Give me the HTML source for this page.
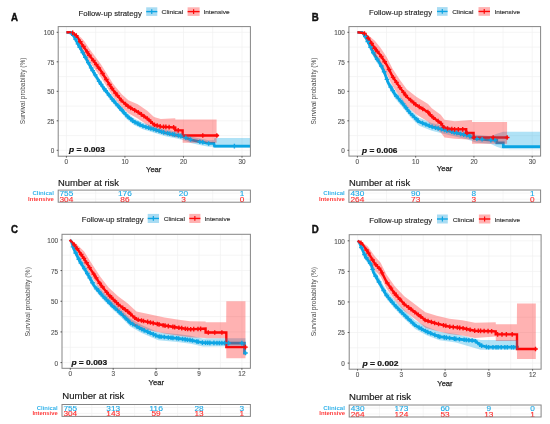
<!DOCTYPE html>
<html><head><meta charset="utf-8"><style>
html,body{margin:0;padding:0;background:#fff;}
svg{display:block;font-family:"Liberation Sans", sans-serif;filter:blur(0.35px);}
</style></head><body>
<svg width="550" height="424" viewBox="0 0 550 424">
<rect width="550" height="424" fill="#fff"/>
<text x="11.10" y="20.90" font-size="10.0" fill="#111" font-weight="bold" font-style="normal" text-anchor="start" textLength="7.00" lengthAdjust="spacingAndGlyphs" stroke="#111" stroke-width="0.4">A</text>
<text x="78.40" y="15.60" font-size="8" fill="#262626" font-weight="normal" font-style="normal" text-anchor="start" textLength="63.40" lengthAdjust="spacingAndGlyphs" stroke="#262626" stroke-width="0.15">Follow-up strategy</text>
<rect x="146.20" y="7.30" width="11.10" height="8.60" fill="#a9dcf3"/>
<line x1="146.20" y1="11.60" x2="157.30" y2="11.60" stroke="#0ea5e4" stroke-width="1.4"/>
<line x1="151.75" y1="9.20" x2="151.75" y2="14.00" stroke="#0ea5e4" stroke-width="1.2"/>
<text x="161.60" y="14.40" font-size="6" fill="#333" font-weight="normal" font-style="normal" text-anchor="start" textLength="21.60" lengthAdjust="spacingAndGlyphs" stroke="#333" stroke-width="0.15">Clinical</text>
<rect x="187.60" y="7.30" width="12.00" height="8.60" fill="#ffb2b2"/>
<line x1="187.60" y1="11.60" x2="199.60" y2="11.60" stroke="#fe0a0a" stroke-width="1.4"/>
<line x1="193.60" y1="9.20" x2="193.60" y2="14.00" stroke="#fe0a0a" stroke-width="1.2"/>
<text x="203.40" y="14.40" font-size="6" fill="#333" font-weight="normal" font-style="normal" text-anchor="start" textLength="26.20" lengthAdjust="spacingAndGlyphs" stroke="#333" stroke-width="0.15">Intensive</text>
<rect x="58.2" y="26.6" width="192.2" height="129.6" fill="#fff"/>
<line x1="66.40" y1="26.6" x2="66.40" y2="156.2" stroke="#f0f0f0" stroke-width="0.7"/>
<line x1="95.67" y1="26.6" x2="95.67" y2="156.2" stroke="#f0f0f0" stroke-width="0.7"/>
<line x1="124.93" y1="26.6" x2="124.93" y2="156.2" stroke="#f0f0f0" stroke-width="0.7"/>
<line x1="154.20" y1="26.6" x2="154.20" y2="156.2" stroke="#f0f0f0" stroke-width="0.7"/>
<line x1="183.47" y1="26.6" x2="183.47" y2="156.2" stroke="#f0f0f0" stroke-width="0.7"/>
<line x1="212.73" y1="26.6" x2="212.73" y2="156.2" stroke="#f0f0f0" stroke-width="0.7"/>
<line x1="242.00" y1="26.6" x2="242.00" y2="156.2" stroke="#f0f0f0" stroke-width="0.7"/>
<line x1="58.2" y1="150.30" x2="250.4" y2="150.30" stroke="#f0f0f0" stroke-width="0.7"/>
<line x1="58.2" y1="135.55" x2="250.4" y2="135.55" stroke="#f0f0f0" stroke-width="0.7"/>
<line x1="58.2" y1="120.80" x2="250.4" y2="120.80" stroke="#f0f0f0" stroke-width="0.7"/>
<line x1="58.2" y1="106.05" x2="250.4" y2="106.05" stroke="#f0f0f0" stroke-width="0.7"/>
<line x1="58.2" y1="91.30" x2="250.4" y2="91.30" stroke="#f0f0f0" stroke-width="0.7"/>
<line x1="58.2" y1="76.55" x2="250.4" y2="76.55" stroke="#f0f0f0" stroke-width="0.7"/>
<line x1="58.2" y1="61.80" x2="250.4" y2="61.80" stroke="#f0f0f0" stroke-width="0.7"/>
<line x1="58.2" y1="47.05" x2="250.4" y2="47.05" stroke="#f0f0f0" stroke-width="0.7"/>
<line x1="58.2" y1="32.30" x2="250.4" y2="32.30" stroke="#f0f0f0" stroke-width="0.7"/>
<path d="M66.40 32.30 L69.91 32.30 L72.25 34.07 L74.59 37.49 L77.58 43.27 L81.21 49.76 L84.08 54.96 L87.59 61.33 L93.27 71.71 L99.00 81.15 L102.69 86.82 L107.55 93.19 L114.28 101.68 L120.84 109.00 L126.86 115.84 L133.65 121.51 L142.67 125.99 L154.20 129.53 L165.32 132.84 L176.62 135.08 L182.65 136.61 L191.72 140.03 L199.62 141.69 L208.69 143.46 L213.90 143.46 L214.49 146.17 L250.19 146.17" fill="none" stroke="#0ea5e4" stroke-width="2.7" stroke-linejoin="miter"/>
<path d="M66.40 32.30 L72.25 32.54 L76.82 35.96 L81.21 43.27 L84.78 48.35 L89.17 54.96 L93.27 60.38 L100.88 70.77 L107.49 81.27 L113.05 90.12 L121.77 100.86 L128.39 106.64 L137.75 111.95 L147.23 118.44 L154.02 124.58 L160.81 126.58 L175.27 127.53 L175.27 130.36 L182.65 130.36 L182.65 135.55 L218.29 135.55" fill="none" stroke="#fe0a0a" stroke-width="2.4" stroke-linejoin="miter"/>
<path d="M66.40 32.30 L69.91 32.30 L72.25 33.18 L74.59 34.90 L77.58 39.97 L81.21 46.46 L84.08 51.65 L87.59 58.02 L93.27 68.41 L99.00 77.85 L102.69 83.51 L107.55 89.88 L114.28 98.38 L120.84 105.70 L126.86 112.54 L133.65 118.20 L142.67 122.69 L154.20 126.23 L165.32 129.53 L176.62 131.77 L182.65 133.31 L191.72 136.73 L199.62 138.38 L208.69 140.15 L213.90 140.15 L214.49 138.03 L250.19 138.03 L250.19 147.70 L214.49 147.70 L213.90 146.76 L208.69 146.76 L199.62 144.99 L191.72 143.34 L182.65 139.92 L176.62 138.38 L165.32 136.14 L154.20 132.84 L142.67 129.30 L133.65 124.81 L126.86 119.15 L120.84 112.30 L114.28 104.99 L107.55 96.49 L102.69 90.12 L99.00 84.46 L93.27 75.02 L87.59 64.63 L84.08 58.26 L81.21 53.07 L77.58 46.58 L74.59 40.09 L72.25 34.95 L69.91 32.30 L66.40 32.30Z" fill="#00a0e1" fill-opacity="0.31"/>
<path d="M66.40 32.30 L72.25 32.42 L76.82 34.13 L81.21 37.79 L84.78 41.86 L89.17 48.47 L93.27 53.89 L100.88 64.28 L107.49 74.78 L113.05 83.63 L121.77 94.37 L128.39 100.15 L137.75 104.28 L147.23 110.77 L154.02 116.91 L160.81 118.91 L175.27 118.20 L175.33 119.62 L182.59 119.62 L182.65 119.62 L216.60 119.62 L216.60 142.75 L182.65 142.75 L182.59 137.20 L175.33 137.20 L175.27 137.20 L160.81 133.07 L154.02 131.07 L147.23 124.93 L137.75 118.44 L128.39 113.13 L121.77 107.35 L113.05 96.61 L107.49 87.76 L100.88 77.26 L93.27 66.87 L89.17 61.45 L84.78 54.84 L81.21 48.76 L76.82 37.79 L72.25 32.65 L66.40 32.30Z" fill="#ff0000" fill-opacity="0.3"/>
<path d="M69.38 33.63H73.98M71.68 31.33V35.93" stroke="#0ea5e4" stroke-width="1.4"/>
<path d="M73.14 39.12H77.74M75.44 36.82V41.42" stroke="#0ea5e4" stroke-width="1.4"/>
<path d="M75.64 43.91H80.24M77.94 41.61V46.21" stroke="#0ea5e4" stroke-width="1.4"/>
<path d="M77.47 47.19H82.07M79.77 44.89V49.49" stroke="#0ea5e4" stroke-width="1.4"/>
<path d="M80.48 52.61H85.08M82.78 50.31V54.91" stroke="#0ea5e4" stroke-width="1.4"/>
<path d="M83.04 57.25H87.64M85.34 54.95V59.55" stroke="#0ea5e4" stroke-width="1.4"/>
<path d="M86.00 62.62H90.60M88.30 60.32V64.92" stroke="#0ea5e4" stroke-width="1.4"/>
<path d="M88.85 67.84H93.45M91.15 65.54V70.14" stroke="#0ea5e4" stroke-width="1.4"/>
<path d="M90.38 70.65H94.98M92.68 68.35V72.95" stroke="#0ea5e4" stroke-width="1.4"/>
<path d="M92.91 74.92H97.51M95.21 72.62V77.22" stroke="#0ea5e4" stroke-width="1.4"/>
<path d="M96.82 81.34H101.42M99.12 79.04V83.64" stroke="#0ea5e4" stroke-width="1.4"/>
<path d="M98.82 84.41H103.42M101.12 82.11V86.71" stroke="#0ea5e4" stroke-width="1.4"/>
<path d="M101.98 88.90H106.58M104.28 86.60V91.20" stroke="#0ea5e4" stroke-width="1.4"/>
<path d="M103.41 90.77H108.01M105.71 88.47V93.07" stroke="#0ea5e4" stroke-width="1.4"/>
<path d="M106.74 95.07H111.34M109.04 92.77V97.37" stroke="#0ea5e4" stroke-width="1.4"/>
<path d="M109.81 98.95H114.41M112.11 96.65V101.25" stroke="#0ea5e4" stroke-width="1.4"/>
<path d="M111.67 101.29H116.27M113.97 98.99V103.59" stroke="#0ea5e4" stroke-width="1.4"/>
<path d="M115.44 105.54H120.04M117.74 103.24V107.84" stroke="#0ea5e4" stroke-width="1.4"/>
<path d="M118.00 108.40H122.60M120.30 106.10V110.70" stroke="#0ea5e4" stroke-width="1.4"/>
<path d="M119.26 109.82H123.86M121.56 107.52V112.12" stroke="#0ea5e4" stroke-width="1.4"/>
<path d="M121.88 112.80H126.48M124.18 110.50V115.10" stroke="#0ea5e4" stroke-width="1.4"/>
<path d="M125.33 116.48H129.93M127.63 114.18V118.78" stroke="#0ea5e4" stroke-width="1.4"/>
<path d="M128.60 119.21H133.20M130.90 116.91V121.51" stroke="#0ea5e4" stroke-width="1.4"/>
<path d="M130.35 120.67H134.95M132.65 118.37V122.97" stroke="#0ea5e4" stroke-width="1.4"/>
<path d="M132.72 122.19H137.32M135.02 119.89V124.49" stroke="#0ea5e4" stroke-width="1.4"/>
<path d="M135.68 123.66H140.28M137.98 121.36V125.96" stroke="#0ea5e4" stroke-width="1.4"/>
<path d="M137.69 124.66H142.29M139.99 122.36V126.96" stroke="#0ea5e4" stroke-width="1.4"/>
<path d="M140.63 126.07H145.23M142.93 123.77V128.37" stroke="#0ea5e4" stroke-width="1.4"/>
<path d="M143.61 126.99H148.21M145.91 124.69V129.29" stroke="#0ea5e4" stroke-width="1.4"/>
<path d="M146.33 127.82H150.93M148.63 125.52V130.12" stroke="#0ea5e4" stroke-width="1.4"/>
<path d="M148.55 128.50H153.15M150.85 126.20V130.80" stroke="#0ea5e4" stroke-width="1.4"/>
<path d="M151.18 129.31H155.78M153.48 127.01V131.61" stroke="#0ea5e4" stroke-width="1.4"/>
<path d="M153.80 130.10H158.40M156.10 127.80V132.40" stroke="#0ea5e4" stroke-width="1.4"/>
<path d="M156.81 130.99H161.41M159.11 128.69V133.29" stroke="#0ea5e4" stroke-width="1.4"/>
<path d="M159.18 131.69H163.78M161.48 129.39V133.99" stroke="#0ea5e4" stroke-width="1.4"/>
<path d="M161.39 132.35H165.99M163.69 130.05V134.65" stroke="#0ea5e4" stroke-width="1.4"/>
<path d="M165.31 133.29H169.91M167.61 130.99V135.59" stroke="#0ea5e4" stroke-width="1.4"/>
<path d="M167.50 133.72H172.10M169.80 131.42V136.02" stroke="#0ea5e4" stroke-width="1.4"/>
<path d="M170.27 134.27H174.87M172.57 131.97V136.57" stroke="#0ea5e4" stroke-width="1.4"/>
<path d="M172.18 134.65H176.78M174.48 132.35V136.95" stroke="#0ea5e4" stroke-width="1.4"/>
<path d="M176.09 135.53H180.69M178.39 133.23V137.83" stroke="#0ea5e4" stroke-width="1.4"/>
<path d="M178.52 136.15H183.12M180.82 133.85V138.45" stroke="#0ea5e4" stroke-width="1.4"/>
<path d="M183.51 137.80H188.11M185.81 135.50V140.10" stroke="#0ea5e4" stroke-width="1.4"/>
<path d="M188.19 139.57H192.79M190.49 137.27V141.87" stroke="#0ea5e4" stroke-width="1.4"/>
<path d="M197.56 141.73H202.16M199.86 139.43V144.03" stroke="#0ea5e4" stroke-width="1.4"/>
<path d="M200.48 142.30H205.08M202.78 140.00V144.60" stroke="#0ea5e4" stroke-width="1.4"/>
<path d="M206.34 143.44H210.94M208.64 141.14V145.74" stroke="#0ea5e4" stroke-width="1.4"/>
<path d="M232.09 146.17H236.69M234.39 143.87V148.47" stroke="#0ea5e4" stroke-width="1.4"/>
<path d="M70.39 32.86H74.99M72.69 30.56V35.16" stroke="#fe0a0a" stroke-width="1.4"/>
<path d="M74.02 35.58H78.62M76.32 33.28V37.88" stroke="#fe0a0a" stroke-width="1.4"/>
<path d="M77.99 41.74H82.59M80.29 39.44V44.04" stroke="#fe0a0a" stroke-width="1.4"/>
<path d="M81.19 46.52H85.79M83.49 44.22V48.82" stroke="#fe0a0a" stroke-width="1.4"/>
<path d="M84.84 51.91H89.44M87.14 49.61V54.21" stroke="#fe0a0a" stroke-width="1.4"/>
<path d="M87.07 55.22H91.67M89.37 52.92V57.52" stroke="#fe0a0a" stroke-width="1.4"/>
<path d="M91.08 60.54H95.68M93.38 58.24V62.84" stroke="#fe0a0a" stroke-width="1.4"/>
<path d="M93.99 64.51H98.59M96.29 62.21V66.81" stroke="#fe0a0a" stroke-width="1.4"/>
<path d="M96.50 67.93H101.10M98.80 65.63V70.23" stroke="#fe0a0a" stroke-width="1.4"/>
<path d="M100.27 73.45H104.87M102.57 71.15V75.75" stroke="#fe0a0a" stroke-width="1.4"/>
<path d="M104.06 79.47H108.66M106.36 77.17V81.77" stroke="#fe0a0a" stroke-width="1.4"/>
<path d="M107.21 84.48H111.81M109.51 82.18V86.78" stroke="#fe0a0a" stroke-width="1.4"/>
<path d="M109.77 88.55H114.37M112.07 86.25V90.85" stroke="#fe0a0a" stroke-width="1.4"/>
<path d="M113.15 93.07H117.75M115.45 90.77V95.37" stroke="#fe0a0a" stroke-width="1.4"/>
<path d="M115.30 95.72H119.90M117.60 93.42V98.02" stroke="#fe0a0a" stroke-width="1.4"/>
<path d="M118.92 100.17H123.52M121.22 97.87V102.47" stroke="#fe0a0a" stroke-width="1.4"/>
<path d="M123.21 104.12H127.81M125.51 101.82V106.42" stroke="#fe0a0a" stroke-width="1.4"/>
<path d="M125.69 106.29H130.29M127.99 103.99V108.59" stroke="#fe0a0a" stroke-width="1.4"/>
<path d="M128.44 107.97H133.04M130.74 105.67V110.27" stroke="#fe0a0a" stroke-width="1.4"/>
<path d="M132.39 110.21H136.99M134.69 107.91V112.51" stroke="#fe0a0a" stroke-width="1.4"/>
<path d="M135.90 112.26H140.50M138.20 109.96V114.56" stroke="#fe0a0a" stroke-width="1.4"/>
<path d="M139.07 114.42H143.67M141.37 112.12V116.72" stroke="#fe0a0a" stroke-width="1.4"/>
<path d="M141.71 116.23H146.31M144.01 113.93V118.53" stroke="#fe0a0a" stroke-width="1.4"/>
<path d="M145.05 118.55H149.65M147.35 116.25V120.85" stroke="#fe0a0a" stroke-width="1.4"/>
<path d="M148.40 121.58H153.00M150.70 119.28V123.88" stroke="#fe0a0a" stroke-width="1.4"/>
<path d="M152.15 124.70H156.75M154.45 122.40V127.00" stroke="#fe0a0a" stroke-width="1.4"/>
<path d="M154.87 125.50H159.47M157.17 123.20V127.80" stroke="#fe0a0a" stroke-width="1.4"/>
<path d="M157.84 126.38H162.44M160.14 124.08V128.68" stroke="#fe0a0a" stroke-width="1.4"/>
<path d="M161.25 126.76H165.85M163.55 124.46V129.06" stroke="#fe0a0a" stroke-width="1.4"/>
<path d="M163.58 126.91H168.18M165.88 124.61V129.21" stroke="#fe0a0a" stroke-width="1.4"/>
<path d="M166.82 127.12H171.42M169.12 124.82V129.42" stroke="#fe0a0a" stroke-width="1.4"/>
<path d="M171.32 127.42H175.92M173.62 125.12V129.72" stroke="#fe0a0a" stroke-width="1.4"/>
<path d="M175.90 130.36H180.50M178.20 128.06V132.66" stroke="#fe0a0a" stroke-width="1.4"/>
<path d="M200.48 135.55H205.08M202.78 133.25V137.85" stroke="#fe0a0a" stroke-width="1.4"/>
<path d="M214.53 135.55H219.13M216.83 133.25V137.85" stroke="#fe0a0a" stroke-width="1.4"/>
<text x="69.00" y="152.20" font-size="7.8" fill="#111" font-weight="bold" stroke="#111" stroke-width="0.2" textLength="36.00" lengthAdjust="spacingAndGlyphs"><tspan font-style="italic">p</tspan> = 0.003</text>
<rect x="58.2" y="26.6" width="192.2" height="129.6" fill="none" stroke="#858585" stroke-width="1"/>
<line x1="66.40" y1="156.2" x2="66.40" y2="157.7" stroke="#333" stroke-width="0.8"/>
<text x="66.40" y="163.80" font-size="6.4" fill="#555555" font-weight="normal" font-style="normal" text-anchor="middle" stroke="#555555" stroke-width="0.12">0</text>
<line x1="124.93" y1="156.2" x2="124.93" y2="157.7" stroke="#333" stroke-width="0.8"/>
<text x="124.93" y="163.80" font-size="6.4" fill="#555555" font-weight="normal" font-style="normal" text-anchor="middle" stroke="#555555" stroke-width="0.12">10</text>
<line x1="183.47" y1="156.2" x2="183.47" y2="157.7" stroke="#333" stroke-width="0.8"/>
<text x="183.47" y="163.80" font-size="6.4" fill="#555555" font-weight="normal" font-style="normal" text-anchor="middle" stroke="#555555" stroke-width="0.12">20</text>
<line x1="242.00" y1="156.2" x2="242.00" y2="157.7" stroke="#333" stroke-width="0.8"/>
<text x="242.00" y="163.80" font-size="6.4" fill="#555555" font-weight="normal" font-style="normal" text-anchor="middle" stroke="#555555" stroke-width="0.12">30</text>
<line x1="56.7" y1="150.30" x2="58.2" y2="150.30" stroke="#333" stroke-width="0.8"/>
<text x="54.30" y="153.25" font-size="6.4" fill="#555555" font-weight="normal" font-style="normal" text-anchor="end" stroke="#555555" stroke-width="0.12">0</text>
<line x1="56.7" y1="120.80" x2="58.2" y2="120.80" stroke="#333" stroke-width="0.8"/>
<text x="54.30" y="123.75" font-size="6.4" fill="#555555" font-weight="normal" font-style="normal" text-anchor="end" stroke="#555555" stroke-width="0.12">25</text>
<line x1="56.7" y1="91.30" x2="58.2" y2="91.30" stroke="#333" stroke-width="0.8"/>
<text x="54.30" y="94.25" font-size="6.4" fill="#555555" font-weight="normal" font-style="normal" text-anchor="end" stroke="#555555" stroke-width="0.12">50</text>
<line x1="56.7" y1="61.80" x2="58.2" y2="61.80" stroke="#333" stroke-width="0.8"/>
<text x="54.30" y="64.75" font-size="6.4" fill="#555555" font-weight="normal" font-style="normal" text-anchor="end" stroke="#555555" stroke-width="0.12">75</text>
<line x1="56.7" y1="32.30" x2="58.2" y2="32.30" stroke="#333" stroke-width="0.8"/>
<text x="54.30" y="35.25" font-size="6.4" fill="#555555" font-weight="normal" font-style="normal" text-anchor="end" stroke="#555555" stroke-width="0.12">100</text>
<text transform="translate(24.50,90.90) rotate(-90)" x="0" y="0" font-size="7.8" fill="#4a4a4a" text-anchor="middle" textLength="66.50" lengthAdjust="spacingAndGlyphs">Survival probability (%)</text>
<text x="146.00" y="171.50" font-size="7.4" fill="#262626" font-weight="normal" font-style="normal" text-anchor="start" textLength="15.40" lengthAdjust="spacingAndGlyphs" stroke="#262626" stroke-width="0.25">Year</text>
<text x="58.00" y="185.90" font-size="8.2" fill="#1a1a1a" font-weight="normal" font-style="normal" text-anchor="start" textLength="61.00" lengthAdjust="spacingAndGlyphs" stroke="#1a1a1a" stroke-width="0.15">Number at risk</text>
<rect x="58.2" y="190.1" width="192.2" height="12.099999999999994" fill="#fff"/>
<line x1="66.40" y1="190.1" x2="66.40" y2="202.2" stroke="#f0f0f0" stroke-width="0.7"/>
<line x1="95.67" y1="190.1" x2="95.67" y2="202.2" stroke="#f0f0f0" stroke-width="0.7"/>
<line x1="124.93" y1="190.1" x2="124.93" y2="202.2" stroke="#f0f0f0" stroke-width="0.7"/>
<line x1="154.20" y1="190.1" x2="154.20" y2="202.2" stroke="#f0f0f0" stroke-width="0.7"/>
<line x1="183.47" y1="190.1" x2="183.47" y2="202.2" stroke="#f0f0f0" stroke-width="0.7"/>
<line x1="212.73" y1="190.1" x2="212.73" y2="202.2" stroke="#f0f0f0" stroke-width="0.7"/>
<line x1="242.00" y1="190.1" x2="242.00" y2="202.2" stroke="#f0f0f0" stroke-width="0.7"/>
<line x1="58.2" y1="193.12" x2="250.4" y2="193.12" stroke="#f0f0f0" stroke-width="0.7"/>
<line x1="58.2" y1="199.17" x2="250.4" y2="199.17" stroke="#f0f0f0" stroke-width="0.7"/>
<text x="66.40" y="196.10" font-size="6.9" fill="#1ea9e6" font-weight="normal" font-style="normal" text-anchor="middle" textLength="13.80" lengthAdjust="spacingAndGlyphs" stroke="#1ea9e6" stroke-width="0.1">755</text>
<text x="66.40" y="201.80" font-size="6.9" fill="#ff2a2a" font-weight="normal" font-style="normal" text-anchor="middle" textLength="13.80" lengthAdjust="spacingAndGlyphs" stroke="#ff2a2a" stroke-width="0.1">304</text>
<text x="124.93" y="196.10" font-size="6.9" fill="#1ea9e6" font-weight="normal" font-style="normal" text-anchor="middle" textLength="13.80" lengthAdjust="spacingAndGlyphs" stroke="#1ea9e6" stroke-width="0.1">176</text>
<text x="124.93" y="201.80" font-size="6.9" fill="#ff2a2a" font-weight="normal" font-style="normal" text-anchor="middle" textLength="9.20" lengthAdjust="spacingAndGlyphs" stroke="#ff2a2a" stroke-width="0.1">86</text>
<text x="183.47" y="196.10" font-size="6.9" fill="#1ea9e6" font-weight="normal" font-style="normal" text-anchor="middle" textLength="9.20" lengthAdjust="spacingAndGlyphs" stroke="#1ea9e6" stroke-width="0.1">20</text>
<text x="183.47" y="201.80" font-size="6.9" fill="#ff2a2a" font-weight="normal" font-style="normal" text-anchor="middle" textLength="4.60" lengthAdjust="spacingAndGlyphs" stroke="#ff2a2a" stroke-width="0.1">3</text>
<text x="242.00" y="196.10" font-size="6.9" fill="#1ea9e6" font-weight="normal" font-style="normal" text-anchor="middle" textLength="4.60" lengthAdjust="spacingAndGlyphs" stroke="#1ea9e6" stroke-width="0.1">1</text>
<text x="242.00" y="201.80" font-size="6.9" fill="#ff2a2a" font-weight="normal" font-style="normal" text-anchor="middle" textLength="4.60" lengthAdjust="spacingAndGlyphs" stroke="#ff2a2a" stroke-width="0.1">0</text>
<rect x="58.2" y="190.1" width="192.2" height="12.099999999999994" fill="none" stroke="#858585" stroke-width="1"/>
<text x="53.90" y="195.10" font-size="5.6" fill="#35b3ea" font-weight="bold" font-style="normal" text-anchor="end" textLength="21.50" lengthAdjust="spacingAndGlyphs">Clinical</text>
<text x="53.90" y="200.60" font-size="5.6" fill="#ff3a3a" font-weight="bold" font-style="normal" text-anchor="end" textLength="25.80" lengthAdjust="spacingAndGlyphs">Intensive</text>
<text x="311.80" y="20.90" font-size="10.0" fill="#111" font-weight="bold" font-style="normal" text-anchor="start" textLength="7.00" lengthAdjust="spacingAndGlyphs" stroke="#111" stroke-width="0.4">B</text>
<text x="369.00" y="15.40" font-size="8" fill="#262626" font-weight="normal" font-style="normal" text-anchor="start" textLength="63.00" lengthAdjust="spacingAndGlyphs" stroke="#262626" stroke-width="0.15">Follow-up strategy</text>
<rect x="437.00" y="7.10" width="10.60" height="8.70" fill="#a9dcf3"/>
<line x1="437.00" y1="11.45" x2="447.60" y2="11.45" stroke="#0ea5e4" stroke-width="1.4"/>
<line x1="442.30" y1="9.05" x2="442.30" y2="13.85" stroke="#0ea5e4" stroke-width="1.2"/>
<text x="452.20" y="14.30" font-size="6" fill="#333" font-weight="normal" font-style="normal" text-anchor="start" textLength="21.30" lengthAdjust="spacingAndGlyphs" stroke="#333" stroke-width="0.15">Clinical</text>
<rect x="478.50" y="7.10" width="11.50" height="8.70" fill="#ffb2b2"/>
<line x1="478.50" y1="11.45" x2="490.00" y2="11.45" stroke="#fe0a0a" stroke-width="1.4"/>
<line x1="484.25" y1="9.05" x2="484.25" y2="13.85" stroke="#fe0a0a" stroke-width="1.2"/>
<text x="494.40" y="14.30" font-size="6" fill="#333" font-weight="normal" font-style="normal" text-anchor="start" textLength="25.60" lengthAdjust="spacingAndGlyphs" stroke="#333" stroke-width="0.15">Intensive</text>
<rect x="348.9" y="26.6" width="191.70000000000005" height="129.5" fill="#fff"/>
<line x1="357.40" y1="26.6" x2="357.40" y2="156.1" stroke="#f0f0f0" stroke-width="0.7"/>
<line x1="386.53" y1="26.6" x2="386.53" y2="156.1" stroke="#f0f0f0" stroke-width="0.7"/>
<line x1="415.67" y1="26.6" x2="415.67" y2="156.1" stroke="#f0f0f0" stroke-width="0.7"/>
<line x1="444.80" y1="26.6" x2="444.80" y2="156.1" stroke="#f0f0f0" stroke-width="0.7"/>
<line x1="473.93" y1="26.6" x2="473.93" y2="156.1" stroke="#f0f0f0" stroke-width="0.7"/>
<line x1="503.07" y1="26.6" x2="503.07" y2="156.1" stroke="#f0f0f0" stroke-width="0.7"/>
<line x1="532.20" y1="26.6" x2="532.20" y2="156.1" stroke="#f0f0f0" stroke-width="0.7"/>
<line x1="348.9" y1="150.30" x2="540.6" y2="150.30" stroke="#f0f0f0" stroke-width="0.7"/>
<line x1="348.9" y1="135.55" x2="540.6" y2="135.55" stroke="#f0f0f0" stroke-width="0.7"/>
<line x1="348.9" y1="120.80" x2="540.6" y2="120.80" stroke="#f0f0f0" stroke-width="0.7"/>
<line x1="348.9" y1="106.05" x2="540.6" y2="106.05" stroke="#f0f0f0" stroke-width="0.7"/>
<line x1="348.9" y1="91.30" x2="540.6" y2="91.30" stroke="#f0f0f0" stroke-width="0.7"/>
<line x1="348.9" y1="76.55" x2="540.6" y2="76.55" stroke="#f0f0f0" stroke-width="0.7"/>
<line x1="348.9" y1="61.80" x2="540.6" y2="61.80" stroke="#f0f0f0" stroke-width="0.7"/>
<line x1="348.9" y1="47.05" x2="540.6" y2="47.05" stroke="#f0f0f0" stroke-width="0.7"/>
<line x1="348.9" y1="32.30" x2="540.6" y2="32.30" stroke="#f0f0f0" stroke-width="0.7"/>
<path d="M357.40 32.30 L362.06 32.30 L365.32 36.55 L369.99 45.99 L374.82 55.55 L380.71 64.75 L384.20 71.83 L387.99 82.45 L394.98 94.49 L402.09 102.75 L410.19 113.13 L419.10 121.74 L431.81 126.82 L444.51 130.00 L457.27 133.19 L467.70 135.55 L475.51 138.62 L490.89 140.15 L496.77 140.15 L496.77 142.87 L503.30 142.87 L503.30 146.64 L540.36 146.64" fill="none" stroke="#0ea5e4" stroke-width="2.7" stroke-linejoin="miter"/>
<path d="M357.40 32.30 L364.22 33.13 L368.88 39.03 L374.82 48.35 L380.71 55.55 L386.82 64.99 L392.71 76.79 L399.82 87.41 L406.81 96.85 L416.31 105.11 L428.08 112.19 L431.81 116.55 L440.72 123.04 L444.51 128.12 L454.71 129.41 L466.18 129.30 L466.18 132.95 L473.58 132.95 L473.58 137.56 L507.90 137.56" fill="none" stroke="#fe0a0a" stroke-width="2.4" stroke-linejoin="miter"/>
<path d="M357.40 32.30 L362.06 32.30 L365.32 34.42 L369.99 42.09 L374.82 51.65 L380.71 60.86 L384.20 67.94 L387.99 78.56 L394.98 90.59 L402.09 98.85 L410.19 109.24 L419.10 117.85 L431.81 122.92 L444.51 126.11 L457.27 129.30 L467.70 131.66 L475.51 134.72 L490.89 136.26 L496.77 133.78 L503.30 131.66 L540.36 131.66 L540.36 149.36 L503.30 149.12 L496.77 146.76 L490.89 144.05 L475.51 142.51 L467.70 139.44 L457.27 137.08 L444.51 133.90 L431.81 130.71 L419.10 125.64 L410.19 117.02 L402.09 106.64 L394.98 98.38 L387.99 86.34 L384.20 75.72 L380.71 68.64 L374.82 59.44 L369.99 49.88 L365.32 38.67 L362.06 32.30 L357.40 32.30Z" fill="#00a0e1" fill-opacity="0.31"/>
<path d="M357.40 32.30 L364.22 32.71 L368.88 35.66 L374.82 40.68 L380.71 47.88 L386.82 57.32 L392.71 69.12 L399.82 79.74 L406.81 89.18 L416.31 96.85 L428.08 103.93 L431.81 108.29 L440.72 114.78 L444.51 119.86 L454.71 121.15 L471.95 119.97 L472.01 122.10 L507.09 122.10 L507.09 143.69 L472.01 143.69 L471.95 139.68 L454.71 138.85 L444.51 137.56 L440.72 132.48 L431.81 125.99 L428.08 121.63 L416.31 114.55 L406.81 106.29 L399.82 96.85 L392.71 86.23 L386.82 74.43 L380.71 62.63 L374.82 55.43 L368.88 42.39 L364.22 33.54 L357.40 32.30Z" fill="#ff0000" fill-opacity="0.3"/>
<path d="M363.02 36.54H367.62M365.32 34.24V38.84" stroke="#0ea5e4" stroke-width="1.4"/>
<path d="M365.48 41.51H370.08M367.78 39.21V43.81" stroke="#0ea5e4" stroke-width="1.4"/>
<path d="M368.30 47.20H372.90M370.60 44.90V49.50" stroke="#0ea5e4" stroke-width="1.4"/>
<path d="M371.07 52.68H375.67M373.37 50.38V54.98" stroke="#0ea5e4" stroke-width="1.4"/>
<path d="M374.91 59.29H379.51M377.21 56.99V61.59" stroke="#0ea5e4" stroke-width="1.4"/>
<path d="M379.04 66.04H383.64M381.34 63.74V68.34" stroke="#0ea5e4" stroke-width="1.4"/>
<path d="M381.84 71.70H386.44M384.14 69.40V74.00" stroke="#0ea5e4" stroke-width="1.4"/>
<path d="M384.60 79.40H389.20M386.90 77.10V81.70" stroke="#0ea5e4" stroke-width="1.4"/>
<path d="M388.42 87.15H393.02M390.72 84.85V89.45" stroke="#0ea5e4" stroke-width="1.4"/>
<path d="M390.42 90.59H395.02M392.72 88.29V92.89" stroke="#0ea5e4" stroke-width="1.4"/>
<path d="M394.17 96.21H398.77M396.47 93.91V98.51" stroke="#0ea5e4" stroke-width="1.4"/>
<path d="M398.21 100.91H402.81M400.51 98.61V103.21" stroke="#0ea5e4" stroke-width="1.4"/>
<path d="M400.70 103.91H405.30M403.00 101.61V106.21" stroke="#0ea5e4" stroke-width="1.4"/>
<path d="M403.67 107.73H408.27M405.97 105.43V110.03" stroke="#0ea5e4" stroke-width="1.4"/>
<path d="M406.51 111.37H411.11M408.81 109.07V113.67" stroke="#0ea5e4" stroke-width="1.4"/>
<path d="M410.25 115.41H414.85M412.55 113.11V117.71" stroke="#0ea5e4" stroke-width="1.4"/>
<path d="M414.25 119.27H418.85M416.55 116.97V121.57" stroke="#0ea5e4" stroke-width="1.4"/>
<path d="M415.62 120.60H420.22M417.92 118.30V122.90" stroke="#0ea5e4" stroke-width="1.4"/>
<path d="M420.32 123.15H424.92M422.62 120.85V125.45" stroke="#0ea5e4" stroke-width="1.4"/>
<path d="M423.60 124.46H428.20M425.90 122.16V126.76" stroke="#0ea5e4" stroke-width="1.4"/>
<path d="M426.93 125.79H431.53M429.23 123.49V128.09" stroke="#0ea5e4" stroke-width="1.4"/>
<path d="M429.85 126.90H434.45M432.15 124.60V129.20" stroke="#0ea5e4" stroke-width="1.4"/>
<path d="M433.19 127.74H437.79M435.49 125.44V130.04" stroke="#0ea5e4" stroke-width="1.4"/>
<path d="M435.84 128.41H440.44M438.14 126.11V130.71" stroke="#0ea5e4" stroke-width="1.4"/>
<path d="M439.12 129.23H443.72M441.42 126.93V131.53" stroke="#0ea5e4" stroke-width="1.4"/>
<path d="M442.07 129.97H446.67M444.37 127.67V132.27" stroke="#0ea5e4" stroke-width="1.4"/>
<path d="M444.56 130.59H449.16M446.86 128.29V132.89" stroke="#0ea5e4" stroke-width="1.4"/>
<path d="M449.33 131.78H453.93M451.63 129.48V134.08" stroke="#0ea5e4" stroke-width="1.4"/>
<path d="M451.96 132.44H456.56M454.26 130.14V134.74" stroke="#0ea5e4" stroke-width="1.4"/>
<path d="M454.45 133.06H459.05M456.75 130.76V135.36" stroke="#0ea5e4" stroke-width="1.4"/>
<path d="M458.24 133.93H462.84M460.54 131.63V136.23" stroke="#0ea5e4" stroke-width="1.4"/>
<path d="M461.41 134.65H466.01M463.71 132.35V136.95" stroke="#0ea5e4" stroke-width="1.4"/>
<path d="M464.37 135.32H468.97M466.67 133.02V137.62" stroke="#0ea5e4" stroke-width="1.4"/>
<path d="M467.55 136.40H472.15M469.85 134.10V138.70" stroke="#0ea5e4" stroke-width="1.4"/>
<path d="M474.55 138.75H479.15M476.85 136.45V141.05" stroke="#0ea5e4" stroke-width="1.4"/>
<path d="M479.79 139.27H484.39M482.09 136.97V141.57" stroke="#0ea5e4" stroke-width="1.4"/>
<path d="M488.53 140.15H493.13M490.83 137.85V142.45" stroke="#0ea5e4" stroke-width="1.4"/>
<path d="M492.61 140.15H497.21M494.91 137.85V142.45" stroke="#0ea5e4" stroke-width="1.4"/>
<path d="M362.17 33.45H366.77M364.47 31.15V35.75" stroke="#fe0a0a" stroke-width="1.4"/>
<path d="M365.85 38.10H370.45M368.15 35.80V40.40" stroke="#fe0a0a" stroke-width="1.4"/>
<path d="M369.32 43.33H373.92M371.62 41.03V45.63" stroke="#fe0a0a" stroke-width="1.4"/>
<path d="M372.49 48.30H377.09M374.79 46.00V50.60" stroke="#fe0a0a" stroke-width="1.4"/>
<path d="M375.09 51.48H379.69M377.39 49.18V53.78" stroke="#fe0a0a" stroke-width="1.4"/>
<path d="M379.00 56.47H383.60M381.30 54.17V58.77" stroke="#fe0a0a" stroke-width="1.4"/>
<path d="M382.39 61.69H386.99M384.69 59.39V63.99" stroke="#fe0a0a" stroke-width="1.4"/>
<path d="M386.74 69.43H391.34M389.04 67.13V71.73" stroke="#fe0a0a" stroke-width="1.4"/>
<path d="M390.82 77.40H395.42M393.12 75.10V79.70" stroke="#fe0a0a" stroke-width="1.4"/>
<path d="M394.18 82.42H398.78M396.48 80.12V84.72" stroke="#fe0a0a" stroke-width="1.4"/>
<path d="M397.68 87.62H402.28M399.98 85.32V89.92" stroke="#fe0a0a" stroke-width="1.4"/>
<path d="M401.21 92.39H405.81M403.51 90.09V94.69" stroke="#fe0a0a" stroke-width="1.4"/>
<path d="M403.53 95.52H408.13M405.83 93.22V97.82" stroke="#fe0a0a" stroke-width="1.4"/>
<path d="M408.26 100.10H412.86M410.56 97.80V102.40" stroke="#fe0a0a" stroke-width="1.4"/>
<path d="M411.40 102.84H416.00M413.70 100.54V105.14" stroke="#fe0a0a" stroke-width="1.4"/>
<path d="M413.66 104.80H418.26M415.96 102.50V107.10" stroke="#fe0a0a" stroke-width="1.4"/>
<path d="M417.01 106.91H421.61M419.31 104.61V109.21" stroke="#fe0a0a" stroke-width="1.4"/>
<path d="M420.51 109.01H425.11M422.81 106.71V111.31" stroke="#fe0a0a" stroke-width="1.4"/>
<path d="M425.56 112.05H430.16M427.86 109.75V114.35" stroke="#fe0a0a" stroke-width="1.4"/>
<path d="M427.99 114.78H432.59M430.29 112.48V117.08" stroke="#fe0a0a" stroke-width="1.4"/>
<path d="M431.19 117.78H435.79M433.49 115.48V120.08" stroke="#fe0a0a" stroke-width="1.4"/>
<path d="M435.77 121.11H440.37M438.07 118.81V123.41" stroke="#fe0a0a" stroke-width="1.4"/>
<path d="M438.68 123.39H443.28M440.98 121.09V125.69" stroke="#fe0a0a" stroke-width="1.4"/>
<path d="M441.60 127.30H446.20M443.90 125.00V129.60" stroke="#fe0a0a" stroke-width="1.4"/>
<path d="M445.28 128.51H449.88M447.58 126.21V130.81" stroke="#fe0a0a" stroke-width="1.4"/>
<path d="M449.55 129.05H454.15M451.85 126.75V131.35" stroke="#fe0a0a" stroke-width="1.4"/>
<path d="M452.29 129.40H456.89M454.59 127.10V131.70" stroke="#fe0a0a" stroke-width="1.4"/>
<path d="M456.01 129.38H460.61M458.31 127.08V131.68" stroke="#fe0a0a" stroke-width="1.4"/>
<path d="M460.42 129.33H465.02M462.72 127.03V131.63" stroke="#fe0a0a" stroke-width="1.4"/>
<path d="M464.64 132.95H469.24M466.94 130.65V135.25" stroke="#fe0a0a" stroke-width="1.4"/>
<path d="M471.63 137.56H476.23M473.93 135.26V139.86" stroke="#fe0a0a" stroke-width="1.4"/>
<path d="M490.86 137.56H495.46M493.16 135.26V139.86" stroke="#fe0a0a" stroke-width="1.4"/>
<path d="M504.85 137.56H509.45M507.15 135.26V139.86" stroke="#fe0a0a" stroke-width="1.4"/>
<text x="362.00" y="152.90" font-size="7.8" fill="#111" font-weight="bold" stroke="#111" stroke-width="0.2" textLength="35.40" lengthAdjust="spacingAndGlyphs"><tspan font-style="italic">p</tspan> = 0.006</text>
<rect x="348.9" y="26.6" width="191.70000000000005" height="129.5" fill="none" stroke="#858585" stroke-width="1"/>
<line x1="357.40" y1="156.1" x2="357.40" y2="157.6" stroke="#333" stroke-width="0.8"/>
<text x="357.40" y="163.80" font-size="6.4" fill="#555555" font-weight="normal" font-style="normal" text-anchor="middle" stroke="#555555" stroke-width="0.12">0</text>
<line x1="415.67" y1="156.1" x2="415.67" y2="157.6" stroke="#333" stroke-width="0.8"/>
<text x="415.67" y="163.80" font-size="6.4" fill="#555555" font-weight="normal" font-style="normal" text-anchor="middle" stroke="#555555" stroke-width="0.12">10</text>
<line x1="473.93" y1="156.1" x2="473.93" y2="157.6" stroke="#333" stroke-width="0.8"/>
<text x="473.93" y="163.80" font-size="6.4" fill="#555555" font-weight="normal" font-style="normal" text-anchor="middle" stroke="#555555" stroke-width="0.12">20</text>
<line x1="532.20" y1="156.1" x2="532.20" y2="157.6" stroke="#333" stroke-width="0.8"/>
<text x="532.20" y="163.80" font-size="6.4" fill="#555555" font-weight="normal" font-style="normal" text-anchor="middle" stroke="#555555" stroke-width="0.12">30</text>
<line x1="347.4" y1="150.30" x2="348.9" y2="150.30" stroke="#333" stroke-width="0.8"/>
<text x="344.80" y="153.25" font-size="6.4" fill="#555555" font-weight="normal" font-style="normal" text-anchor="end" stroke="#555555" stroke-width="0.12">0</text>
<line x1="347.4" y1="120.80" x2="348.9" y2="120.80" stroke="#333" stroke-width="0.8"/>
<text x="344.80" y="123.75" font-size="6.4" fill="#555555" font-weight="normal" font-style="normal" text-anchor="end" stroke="#555555" stroke-width="0.12">25</text>
<line x1="347.4" y1="91.30" x2="348.9" y2="91.30" stroke="#333" stroke-width="0.8"/>
<text x="344.80" y="94.25" font-size="6.4" fill="#555555" font-weight="normal" font-style="normal" text-anchor="end" stroke="#555555" stroke-width="0.12">50</text>
<line x1="347.4" y1="61.80" x2="348.9" y2="61.80" stroke="#333" stroke-width="0.8"/>
<text x="344.80" y="64.75" font-size="6.4" fill="#555555" font-weight="normal" font-style="normal" text-anchor="end" stroke="#555555" stroke-width="0.12">75</text>
<line x1="347.4" y1="32.30" x2="348.9" y2="32.30" stroke="#333" stroke-width="0.8"/>
<text x="344.80" y="35.25" font-size="6.4" fill="#555555" font-weight="normal" font-style="normal" text-anchor="end" stroke="#555555" stroke-width="0.12">100</text>
<text transform="translate(315.50,91.00) rotate(-90)" x="0" y="0" font-size="7.8" fill="#4a4a4a" text-anchor="middle" textLength="67.00" lengthAdjust="spacingAndGlyphs">Survival probability (%)</text>
<text x="436.80" y="171.40" font-size="7.4" fill="#262626" font-weight="normal" font-style="normal" text-anchor="start" textLength="15.50" lengthAdjust="spacingAndGlyphs" stroke="#262626" stroke-width="0.25">Year</text>
<text x="349.10" y="185.50" font-size="8.2" fill="#1a1a1a" font-weight="normal" font-style="normal" text-anchor="start" textLength="61.00" lengthAdjust="spacingAndGlyphs" stroke="#1a1a1a" stroke-width="0.15">Number at risk</text>
<rect x="348.9" y="190.0" width="191.70000000000005" height="12.300000000000011" fill="#fff"/>
<line x1="357.40" y1="190.0" x2="357.40" y2="202.3" stroke="#f0f0f0" stroke-width="0.7"/>
<line x1="386.53" y1="190.0" x2="386.53" y2="202.3" stroke="#f0f0f0" stroke-width="0.7"/>
<line x1="415.67" y1="190.0" x2="415.67" y2="202.3" stroke="#f0f0f0" stroke-width="0.7"/>
<line x1="444.80" y1="190.0" x2="444.80" y2="202.3" stroke="#f0f0f0" stroke-width="0.7"/>
<line x1="473.93" y1="190.0" x2="473.93" y2="202.3" stroke="#f0f0f0" stroke-width="0.7"/>
<line x1="503.07" y1="190.0" x2="503.07" y2="202.3" stroke="#f0f0f0" stroke-width="0.7"/>
<line x1="532.20" y1="190.0" x2="532.20" y2="202.3" stroke="#f0f0f0" stroke-width="0.7"/>
<line x1="348.9" y1="193.07" x2="540.6" y2="193.07" stroke="#f0f0f0" stroke-width="0.7"/>
<line x1="348.9" y1="199.23" x2="540.6" y2="199.23" stroke="#f0f0f0" stroke-width="0.7"/>
<text x="357.40" y="196.10" font-size="6.9" fill="#1ea9e6" font-weight="normal" font-style="normal" text-anchor="middle" textLength="13.80" lengthAdjust="spacingAndGlyphs" stroke="#1ea9e6" stroke-width="0.1">430</text>
<text x="357.40" y="201.80" font-size="6.9" fill="#ff2a2a" font-weight="normal" font-style="normal" text-anchor="middle" textLength="13.80" lengthAdjust="spacingAndGlyphs" stroke="#ff2a2a" stroke-width="0.1">264</text>
<text x="415.67" y="196.10" font-size="6.9" fill="#1ea9e6" font-weight="normal" font-style="normal" text-anchor="middle" textLength="9.20" lengthAdjust="spacingAndGlyphs" stroke="#1ea9e6" stroke-width="0.1">90</text>
<text x="415.67" y="201.80" font-size="6.9" fill="#ff2a2a" font-weight="normal" font-style="normal" text-anchor="middle" textLength="9.20" lengthAdjust="spacingAndGlyphs" stroke="#ff2a2a" stroke-width="0.1">73</text>
<text x="473.93" y="196.10" font-size="6.9" fill="#1ea9e6" font-weight="normal" font-style="normal" text-anchor="middle" textLength="4.60" lengthAdjust="spacingAndGlyphs" stroke="#1ea9e6" stroke-width="0.1">8</text>
<text x="473.93" y="201.80" font-size="6.9" fill="#ff2a2a" font-weight="normal" font-style="normal" text-anchor="middle" textLength="4.60" lengthAdjust="spacingAndGlyphs" stroke="#ff2a2a" stroke-width="0.1">3</text>
<text x="532.20" y="196.10" font-size="6.9" fill="#1ea9e6" font-weight="normal" font-style="normal" text-anchor="middle" textLength="4.60" lengthAdjust="spacingAndGlyphs" stroke="#1ea9e6" stroke-width="0.1">1</text>
<text x="532.20" y="201.80" font-size="6.9" fill="#ff2a2a" font-weight="normal" font-style="normal" text-anchor="middle" textLength="4.60" lengthAdjust="spacingAndGlyphs" stroke="#ff2a2a" stroke-width="0.1">0</text>
<rect x="348.9" y="190.0" width="191.70000000000005" height="12.300000000000011" fill="none" stroke="#858585" stroke-width="1"/>
<text x="344.80" y="195.10" font-size="5.6" fill="#35b3ea" font-weight="bold" font-style="normal" text-anchor="end" textLength="21.50" lengthAdjust="spacingAndGlyphs">Clinical</text>
<text x="344.80" y="200.60" font-size="5.6" fill="#ff3a3a" font-weight="bold" font-style="normal" text-anchor="end" textLength="25.70" lengthAdjust="spacingAndGlyphs">Intensive</text>
<text x="11.10" y="233.40" font-size="10.0" fill="#111" font-weight="bold" font-style="normal" text-anchor="start" textLength="7.00" lengthAdjust="spacingAndGlyphs" stroke="#111" stroke-width="0.4">C</text>
<text x="81.80" y="222.30" font-size="8" fill="#262626" font-weight="normal" font-style="normal" text-anchor="start" textLength="61.60" lengthAdjust="spacingAndGlyphs" stroke="#262626" stroke-width="0.15">Follow-up strategy</text>
<rect x="147.70" y="213.90" width="11.30" height="9.10" fill="#a9dcf3"/>
<line x1="147.70" y1="218.45" x2="159.00" y2="218.45" stroke="#0ea5e4" stroke-width="1.4"/>
<line x1="153.35" y1="216.05" x2="153.35" y2="220.85" stroke="#0ea5e4" stroke-width="1.2"/>
<text x="163.70" y="221.00" font-size="6" fill="#333" font-weight="normal" font-style="normal" text-anchor="start" textLength="21.20" lengthAdjust="spacingAndGlyphs" stroke="#333" stroke-width="0.15">Clinical</text>
<rect x="189.30" y="213.90" width="11.10" height="9.10" fill="#ffb2b2"/>
<line x1="189.30" y1="218.45" x2="200.40" y2="218.45" stroke="#fe0a0a" stroke-width="1.4"/>
<line x1="194.85" y1="216.05" x2="194.85" y2="220.85" stroke="#fe0a0a" stroke-width="1.2"/>
<text x="204.60" y="221.00" font-size="6" fill="#333" font-weight="normal" font-style="normal" text-anchor="start" textLength="25.60" lengthAdjust="spacingAndGlyphs" stroke="#333" stroke-width="0.15">Intensive</text>
<rect x="62.0" y="234.3" width="188.4" height="134.0" fill="#fff"/>
<line x1="70.30" y1="234.3" x2="70.30" y2="368.3" stroke="#f0f0f0" stroke-width="0.7"/>
<line x1="91.75" y1="234.3" x2="91.75" y2="368.3" stroke="#f0f0f0" stroke-width="0.7"/>
<line x1="113.20" y1="234.3" x2="113.20" y2="368.3" stroke="#f0f0f0" stroke-width="0.7"/>
<line x1="134.65" y1="234.3" x2="134.65" y2="368.3" stroke="#f0f0f0" stroke-width="0.7"/>
<line x1="156.10" y1="234.3" x2="156.10" y2="368.3" stroke="#f0f0f0" stroke-width="0.7"/>
<line x1="177.55" y1="234.3" x2="177.55" y2="368.3" stroke="#f0f0f0" stroke-width="0.7"/>
<line x1="199.00" y1="234.3" x2="199.00" y2="368.3" stroke="#f0f0f0" stroke-width="0.7"/>
<line x1="220.45" y1="234.3" x2="220.45" y2="368.3" stroke="#f0f0f0" stroke-width="0.7"/>
<line x1="241.90" y1="234.3" x2="241.90" y2="368.3" stroke="#f0f0f0" stroke-width="0.7"/>
<line x1="62.0" y1="362.60" x2="250.4" y2="362.60" stroke="#f0f0f0" stroke-width="0.7"/>
<line x1="62.0" y1="347.26" x2="250.4" y2="347.26" stroke="#f0f0f0" stroke-width="0.7"/>
<line x1="62.0" y1="331.93" x2="250.4" y2="331.93" stroke="#f0f0f0" stroke-width="0.7"/>
<line x1="62.0" y1="316.59" x2="250.4" y2="316.59" stroke="#f0f0f0" stroke-width="0.7"/>
<line x1="62.0" y1="301.25" x2="250.4" y2="301.25" stroke="#f0f0f0" stroke-width="0.7"/>
<line x1="62.0" y1="285.91" x2="250.4" y2="285.91" stroke="#f0f0f0" stroke-width="0.7"/>
<line x1="62.0" y1="270.57" x2="250.4" y2="270.57" stroke="#f0f0f0" stroke-width="0.7"/>
<line x1="62.0" y1="255.24" x2="250.4" y2="255.24" stroke="#f0f0f0" stroke-width="0.7"/>
<line x1="62.0" y1="239.90" x2="250.4" y2="239.90" stroke="#f0f0f0" stroke-width="0.7"/>
<path d="M70.30 239.90 L71.44 241.74 L73.88 249.35 L79.74 261.13 L85.60 270.57 L91.75 281.25 L93.75 285.30 L102.76 295.85 L112.06 305.42 L120.35 312.91 L130.22 322.72 L141.66 329.23 L158.25 336.46 L177.26 338.31 L190.56 340.15 L203.00 342.72 L226.31 343.09 L244.47 343.09 L244.47 353.03 L246.33 353.03" fill="none" stroke="#0ea5e4" stroke-width="2.7" stroke-linejoin="miter"/>
<path d="M69.58 239.90 L71.73 241.74 L76.02 247.02 L84.17 258.80 L91.03 269.96 L100.33 284.19 L108.62 294.75 L118.06 304.19 L127.50 311.31 L136.51 319.41 L151.81 322.85 L164.54 325.54 L177.26 327.51 L189.99 329.35 L205.58 328.61 L205.58 332.54 L226.31 332.54 L226.31 347.14 L246.33 347.14" fill="none" stroke="#fe0a0a" stroke-width="2.4" stroke-linejoin="miter"/>
<path d="M70.30 239.90 L71.44 240.82 L73.88 245.05 L79.74 256.83 L85.60 266.28 L91.75 276.96 L93.75 281.00 L102.76 291.56 L112.06 301.13 L120.35 308.61 L130.22 318.43 L141.66 324.93 L158.25 332.17 L177.26 334.01 L190.56 335.85 L203.00 338.43 L226.31 338.31 L245.48 338.31 L245.48 346.28 L226.31 346.28 L203.00 346.40 L190.56 343.83 L177.26 341.99 L158.25 340.15 L141.66 332.91 L130.22 326.40 L120.35 316.59 L112.06 309.10 L102.76 299.53 L93.75 288.98 L91.75 284.93 L85.60 274.26 L79.74 264.81 L73.88 253.03 L71.44 242.66 L70.30 239.90Z" fill="#00a0e1" fill-opacity="0.31"/>
<path d="M69.58 239.90 L71.73 240.82 L76.02 243.46 L84.17 251.43 L91.03 262.60 L100.33 276.83 L108.62 287.38 L118.06 296.22 L127.50 303.34 L136.51 311.43 L151.81 314.87 L164.54 317.57 L177.26 319.53 L189.99 321.37 L205.58 321.50 L205.72 322.35 L226.17 322.35 L226.31 301.25 L245.48 301.25 L245.48 358.31 L226.31 358.31 L226.17 338.31 L205.72 338.31 L205.58 338.06 L189.99 337.32 L177.26 335.48 L164.54 333.52 L151.81 330.82 L136.51 327.39 L127.50 319.29 L118.06 310.33 L108.62 300.88 L100.33 290.33 L91.03 276.10 L84.17 264.93 L76.02 250.57 L71.73 242.66 L69.58 239.90Z" fill="#ff0000" fill-opacity="0.3"/>
<path d="M70.78 246.87H75.38M73.08 244.57V249.17" stroke="#0ea5e4" stroke-width="1.4"/>
<path d="M73.41 253.04H78.01M75.71 250.74V255.34" stroke="#0ea5e4" stroke-width="1.4"/>
<path d="M76.53 259.31H81.13M78.83 257.01V261.61" stroke="#0ea5e4" stroke-width="1.4"/>
<path d="M78.62 263.04H83.22M80.92 260.74V265.34" stroke="#0ea5e4" stroke-width="1.4"/>
<path d="M82.11 268.65H86.71M84.41 266.35V270.95" stroke="#0ea5e4" stroke-width="1.4"/>
<path d="M85.02 273.57H89.62M87.32 271.27V275.87" stroke="#0ea5e4" stroke-width="1.4"/>
<path d="M87.48 277.84H92.08M89.78 275.54V280.14" stroke="#0ea5e4" stroke-width="1.4"/>
<path d="M90.21 282.78H94.81M92.51 280.48V285.08" stroke="#0ea5e4" stroke-width="1.4"/>
<path d="M94.43 288.78H99.03M96.73 286.48V291.08" stroke="#0ea5e4" stroke-width="1.4"/>
<path d="M96.62 291.35H101.22M98.92 289.05V293.65" stroke="#0ea5e4" stroke-width="1.4"/>
<path d="M98.96 294.09H103.56M101.26 291.79V296.39" stroke="#0ea5e4" stroke-width="1.4"/>
<path d="M102.50 297.95H107.10M104.80 295.65V300.25" stroke="#0ea5e4" stroke-width="1.4"/>
<path d="M105.72 301.27H110.32M108.02 298.97V303.57" stroke="#0ea5e4" stroke-width="1.4"/>
<path d="M107.22 302.81H111.82M109.52 300.51V305.11" stroke="#0ea5e4" stroke-width="1.4"/>
<path d="M110.07 305.71H114.67M112.37 303.41V308.01" stroke="#0ea5e4" stroke-width="1.4"/>
<path d="M113.15 308.49H117.75M115.45 306.19V310.79" stroke="#0ea5e4" stroke-width="1.4"/>
<path d="M117.00 311.95H121.60M119.30 309.65V314.25" stroke="#0ea5e4" stroke-width="1.4"/>
<path d="M118.90 313.75H123.50M121.20 311.45V316.05" stroke="#0ea5e4" stroke-width="1.4"/>
<path d="M122.69 317.52H127.29M124.99 315.22V319.82" stroke="#0ea5e4" stroke-width="1.4"/>
<path d="M125.51 320.32H130.11M127.81 318.02V322.62" stroke="#0ea5e4" stroke-width="1.4"/>
<path d="M128.14 322.85H132.74M130.44 320.55V325.15" stroke="#0ea5e4" stroke-width="1.4"/>
<path d="M130.44 324.16H135.04M132.74 321.86V326.46" stroke="#0ea5e4" stroke-width="1.4"/>
<path d="M134.60 326.52H139.20M136.90 324.22V328.82" stroke="#0ea5e4" stroke-width="1.4"/>
<path d="M137.15 327.97H141.75M139.45 325.67V330.27" stroke="#0ea5e4" stroke-width="1.4"/>
<path d="M139.53 329.30H144.13M141.83 327.00V331.60" stroke="#0ea5e4" stroke-width="1.4"/>
<path d="M141.89 330.33H146.49M144.19 328.03V332.63" stroke="#0ea5e4" stroke-width="1.4"/>
<path d="M145.47 331.90H150.07M147.77 329.60V334.20" stroke="#0ea5e4" stroke-width="1.4"/>
<path d="M147.90 332.95H152.50M150.20 330.65V335.25" stroke="#0ea5e4" stroke-width="1.4"/>
<path d="M151.07 334.34H155.67M153.37 332.04V336.64" stroke="#0ea5e4" stroke-width="1.4"/>
<path d="M153.49 335.39H158.09M155.79 333.09V337.69" stroke="#0ea5e4" stroke-width="1.4"/>
<path d="M156.88 336.56H161.48M159.18 334.26V338.86" stroke="#0ea5e4" stroke-width="1.4"/>
<path d="M158.76 336.74H163.36M161.06 334.44V339.04" stroke="#0ea5e4" stroke-width="1.4"/>
<path d="M162.03 337.05H166.63M164.33 334.75V339.35" stroke="#0ea5e4" stroke-width="1.4"/>
<path d="M166.04 337.44H170.64M168.34 335.14V339.74" stroke="#0ea5e4" stroke-width="1.4"/>
<path d="M168.74 337.70H173.34M171.04 335.40V340.00" stroke="#0ea5e4" stroke-width="1.4"/>
<path d="M170.63 337.89H175.23M172.93 335.59V340.19" stroke="#0ea5e4" stroke-width="1.4"/>
<path d="M174.44 338.25H179.04M176.74 335.95V340.55" stroke="#0ea5e4" stroke-width="1.4"/>
<path d="M176.35 338.50H180.95M178.65 336.20V340.80" stroke="#0ea5e4" stroke-width="1.4"/>
<path d="M180.29 339.04H184.89M182.59 336.74V341.34" stroke="#0ea5e4" stroke-width="1.4"/>
<path d="M182.82 339.39H187.42M185.12 337.09V341.69" stroke="#0ea5e4" stroke-width="1.4"/>
<path d="M185.12 339.71H189.72M187.42 337.41V342.01" stroke="#0ea5e4" stroke-width="1.4"/>
<path d="M187.70 340.07H192.30M190.00 337.77V342.37" stroke="#0ea5e4" stroke-width="1.4"/>
<path d="M190.14 340.53H194.74M192.44 338.23V342.83" stroke="#0ea5e4" stroke-width="1.4"/>
<path d="M194.49 341.44H199.09M196.79 339.14V343.74" stroke="#0ea5e4" stroke-width="1.4"/>
<path d="M195.91 341.73H200.51M198.21 339.43V344.03" stroke="#0ea5e4" stroke-width="1.4"/>
<path d="M200.11 342.60H204.71M202.41 340.30V344.90" stroke="#0ea5e4" stroke-width="1.4"/>
<path d="M203.21 342.76H207.81M205.51 340.46V345.06" stroke="#0ea5e4" stroke-width="1.4"/>
<path d="M205.40 342.80H210.00M207.70 340.50V345.10" stroke="#0ea5e4" stroke-width="1.4"/>
<path d="M207.58 342.83H212.18M209.88 340.53V345.13" stroke="#0ea5e4" stroke-width="1.4"/>
<path d="M211.63 342.90H216.23M213.93 340.60V345.20" stroke="#0ea5e4" stroke-width="1.4"/>
<path d="M214.67 342.94H219.27M216.97 340.64V345.24" stroke="#0ea5e4" stroke-width="1.4"/>
<path d="M217.07 342.98H221.67M219.37 340.68V345.28" stroke="#0ea5e4" stroke-width="1.4"/>
<path d="M219.60 343.02H224.20M221.90 340.72V345.32" stroke="#0ea5e4" stroke-width="1.4"/>
<path d="M222.23 343.06H226.83M224.53 340.76V345.36" stroke="#0ea5e4" stroke-width="1.4"/>
<path d="M226.30 343.09H230.90M228.60 340.79V345.39" stroke="#0ea5e4" stroke-width="1.4"/>
<path d="M239.60 343.09H244.20M241.90 340.79V345.39" stroke="#0ea5e4" stroke-width="1.4"/>
<path d="M243.18 353.03H247.78M245.48 350.73V355.33" stroke="#0ea5e4" stroke-width="1.4"/>
<path d="M72.00 244.90H76.60M74.30 242.60V247.20" stroke="#fe0a0a" stroke-width="1.4"/>
<path d="M74.88 248.69H79.48M77.18 246.39V250.99" stroke="#fe0a0a" stroke-width="1.4"/>
<path d="M78.91 254.52H83.51M81.21 252.22V256.82" stroke="#fe0a0a" stroke-width="1.4"/>
<path d="M81.60 258.41H86.20M83.90 256.11V260.71" stroke="#fe0a0a" stroke-width="1.4"/>
<path d="M84.30 262.74H88.90M86.60 260.44V265.04" stroke="#fe0a0a" stroke-width="1.4"/>
<path d="M87.27 267.58H91.87M89.57 265.28V269.88" stroke="#fe0a0a" stroke-width="1.4"/>
<path d="M91.48 274.16H96.08M93.78 271.86V276.46" stroke="#fe0a0a" stroke-width="1.4"/>
<path d="M93.93 277.91H98.53M96.23 275.61V280.21" stroke="#fe0a0a" stroke-width="1.4"/>
<path d="M97.46 283.32H102.06M99.76 281.02V285.62" stroke="#fe0a0a" stroke-width="1.4"/>
<path d="M100.27 287.05H104.87M102.57 284.75V289.35" stroke="#fe0a0a" stroke-width="1.4"/>
<path d="M104.45 292.36H109.05M106.75 290.06V294.66" stroke="#fe0a0a" stroke-width="1.4"/>
<path d="M107.65 296.07H112.25M109.95 293.77V298.37" stroke="#fe0a0a" stroke-width="1.4"/>
<path d="M109.13 297.56H113.73M111.43 295.26V299.86" stroke="#fe0a0a" stroke-width="1.4"/>
<path d="M112.62 301.05H117.22M114.92 298.75V303.35" stroke="#fe0a0a" stroke-width="1.4"/>
<path d="M116.01 304.38H120.61M118.31 302.08V306.68" stroke="#fe0a0a" stroke-width="1.4"/>
<path d="M120.40 307.69H125.00M122.70 305.39V309.99" stroke="#fe0a0a" stroke-width="1.4"/>
<path d="M123.16 309.77H127.76M125.46 307.47V312.07" stroke="#fe0a0a" stroke-width="1.4"/>
<path d="M125.47 311.55H130.07M127.77 309.25V313.85" stroke="#fe0a0a" stroke-width="1.4"/>
<path d="M128.38 314.17H132.98M130.68 311.87V316.47" stroke="#fe0a0a" stroke-width="1.4"/>
<path d="M132.39 317.78H136.99M134.69 315.48V320.08" stroke="#fe0a0a" stroke-width="1.4"/>
<path d="M135.85 319.78H140.45M138.15 317.48V322.08" stroke="#fe0a0a" stroke-width="1.4"/>
<path d="M139.17 320.52H143.77M141.47 318.22V322.82" stroke="#fe0a0a" stroke-width="1.4"/>
<path d="M141.21 320.98H145.81M143.51 318.68V323.28" stroke="#fe0a0a" stroke-width="1.4"/>
<path d="M145.37 321.92H149.97M147.67 319.62V324.22" stroke="#fe0a0a" stroke-width="1.4"/>
<path d="M148.15 322.54H152.75M150.45 320.24V324.84" stroke="#fe0a0a" stroke-width="1.4"/>
<path d="M150.91 323.14H155.51M153.21 320.84V325.44" stroke="#fe0a0a" stroke-width="1.4"/>
<path d="M155.00 324.01H159.60M157.30 321.71V326.31" stroke="#fe0a0a" stroke-width="1.4"/>
<path d="M156.73 324.38H161.33M159.03 322.08V326.68" stroke="#fe0a0a" stroke-width="1.4"/>
<path d="M160.80 325.24H165.40M163.10 322.94V327.54" stroke="#fe0a0a" stroke-width="1.4"/>
<path d="M162.74 325.62H167.34M165.04 323.32V327.92" stroke="#fe0a0a" stroke-width="1.4"/>
<path d="M166.05 326.13H170.65M168.35 323.83V328.43" stroke="#fe0a0a" stroke-width="1.4"/>
<path d="M170.59 326.83H175.19M172.89 324.53V329.13" stroke="#fe0a0a" stroke-width="1.4"/>
<path d="M172.42 327.12H177.02M174.72 324.82V329.42" stroke="#fe0a0a" stroke-width="1.4"/>
<path d="M176.60 327.74H181.20M178.90 325.44V330.04" stroke="#fe0a0a" stroke-width="1.4"/>
<path d="M179.44 328.16H184.04M181.74 325.86V330.46" stroke="#fe0a0a" stroke-width="1.4"/>
<path d="M183.04 328.68H187.64M185.34 326.38V330.98" stroke="#fe0a0a" stroke-width="1.4"/>
<path d="M185.30 329.00H189.90M187.60 326.70V331.30" stroke="#fe0a0a" stroke-width="1.4"/>
<path d="M188.39 329.32H192.99M190.69 327.02V331.62" stroke="#fe0a0a" stroke-width="1.4"/>
<path d="M191.44 329.17H196.04M193.74 326.87V331.47" stroke="#fe0a0a" stroke-width="1.4"/>
<path d="M195.68 328.97H200.28M197.98 326.67V331.27" stroke="#fe0a0a" stroke-width="1.4"/>
<path d="M198.33 328.85H202.93M200.63 326.55V331.15" stroke="#fe0a0a" stroke-width="1.4"/>
<path d="M206.00 332.54H210.60M208.30 330.24V334.84" stroke="#fe0a0a" stroke-width="1.4"/>
<path d="M212.43 332.54H217.03M214.73 330.24V334.84" stroke="#fe0a0a" stroke-width="1.4"/>
<path d="M219.58 332.54H224.18M221.88 330.24V334.84" stroke="#fe0a0a" stroke-width="1.4"/>
<path d="M243.18 347.14H247.78M245.48 344.84V349.44" stroke="#fe0a0a" stroke-width="1.4"/>
<text x="71.40" y="365.30" font-size="7.8" fill="#111" font-weight="bold" stroke="#111" stroke-width="0.2" textLength="35.80" lengthAdjust="spacingAndGlyphs"><tspan font-style="italic">p</tspan> = 0.003</text>
<rect x="62.0" y="234.3" width="188.4" height="134.0" fill="none" stroke="#858585" stroke-width="1"/>
<line x1="70.30" y1="368.3" x2="70.30" y2="369.8" stroke="#333" stroke-width="0.8"/>
<text x="70.30" y="376.30" font-size="6.4" fill="#555555" font-weight="normal" font-style="normal" text-anchor="middle" stroke="#555555" stroke-width="0.12">0</text>
<line x1="113.20" y1="368.3" x2="113.20" y2="369.8" stroke="#333" stroke-width="0.8"/>
<text x="113.20" y="376.30" font-size="6.4" fill="#555555" font-weight="normal" font-style="normal" text-anchor="middle" stroke="#555555" stroke-width="0.12">3</text>
<line x1="156.10" y1="368.3" x2="156.10" y2="369.8" stroke="#333" stroke-width="0.8"/>
<text x="156.10" y="376.30" font-size="6.4" fill="#555555" font-weight="normal" font-style="normal" text-anchor="middle" stroke="#555555" stroke-width="0.12">6</text>
<line x1="199.00" y1="368.3" x2="199.00" y2="369.8" stroke="#333" stroke-width="0.8"/>
<text x="199.00" y="376.30" font-size="6.4" fill="#555555" font-weight="normal" font-style="normal" text-anchor="middle" stroke="#555555" stroke-width="0.12">9</text>
<line x1="241.90" y1="368.3" x2="241.90" y2="369.8" stroke="#333" stroke-width="0.8"/>
<text x="241.90" y="376.30" font-size="6.4" fill="#555555" font-weight="normal" font-style="normal" text-anchor="middle" stroke="#555555" stroke-width="0.12">12</text>
<line x1="60.5" y1="362.60" x2="62.0" y2="362.60" stroke="#333" stroke-width="0.8"/>
<text x="58.00" y="365.55" font-size="6.4" fill="#555555" font-weight="normal" font-style="normal" text-anchor="end" stroke="#555555" stroke-width="0.12">0</text>
<line x1="60.5" y1="331.93" x2="62.0" y2="331.93" stroke="#333" stroke-width="0.8"/>
<text x="58.00" y="334.88" font-size="6.4" fill="#555555" font-weight="normal" font-style="normal" text-anchor="end" stroke="#555555" stroke-width="0.12">25</text>
<line x1="60.5" y1="301.25" x2="62.0" y2="301.25" stroke="#333" stroke-width="0.8"/>
<text x="58.00" y="304.20" font-size="6.4" fill="#555555" font-weight="normal" font-style="normal" text-anchor="end" stroke="#555555" stroke-width="0.12">50</text>
<line x1="60.5" y1="270.57" x2="62.0" y2="270.57" stroke="#333" stroke-width="0.8"/>
<text x="58.00" y="273.52" font-size="6.4" fill="#555555" font-weight="normal" font-style="normal" text-anchor="end" stroke="#555555" stroke-width="0.12">75</text>
<line x1="60.5" y1="239.90" x2="62.0" y2="239.90" stroke="#333" stroke-width="0.8"/>
<text x="58.00" y="242.85" font-size="6.4" fill="#555555" font-weight="normal" font-style="normal" text-anchor="end" stroke="#555555" stroke-width="0.12">100</text>
<text transform="translate(30.30,301.80) rotate(-90)" x="0" y="0" font-size="7.8" fill="#4a4a4a" text-anchor="middle" textLength="69.40" lengthAdjust="spacingAndGlyphs">Survival probability (%)</text>
<text x="148.60" y="384.50" font-size="7.4" fill="#262626" font-weight="normal" font-style="normal" text-anchor="start" textLength="15.50" lengthAdjust="spacingAndGlyphs" stroke="#262626" stroke-width="0.25">Year</text>
<text x="62.30" y="399.30" font-size="8.2" fill="#1a1a1a" font-weight="normal" font-style="normal" text-anchor="start" textLength="62.00" lengthAdjust="spacingAndGlyphs" stroke="#1a1a1a" stroke-width="0.15">Number at risk</text>
<rect x="62.0" y="404.5" width="188.4" height="11.899999999999977" fill="#fff"/>
<line x1="70.30" y1="404.5" x2="70.30" y2="416.4" stroke="#f0f0f0" stroke-width="0.7"/>
<line x1="91.75" y1="404.5" x2="91.75" y2="416.4" stroke="#f0f0f0" stroke-width="0.7"/>
<line x1="113.20" y1="404.5" x2="113.20" y2="416.4" stroke="#f0f0f0" stroke-width="0.7"/>
<line x1="134.65" y1="404.5" x2="134.65" y2="416.4" stroke="#f0f0f0" stroke-width="0.7"/>
<line x1="156.10" y1="404.5" x2="156.10" y2="416.4" stroke="#f0f0f0" stroke-width="0.7"/>
<line x1="177.55" y1="404.5" x2="177.55" y2="416.4" stroke="#f0f0f0" stroke-width="0.7"/>
<line x1="199.00" y1="404.5" x2="199.00" y2="416.4" stroke="#f0f0f0" stroke-width="0.7"/>
<line x1="220.45" y1="404.5" x2="220.45" y2="416.4" stroke="#f0f0f0" stroke-width="0.7"/>
<line x1="241.90" y1="404.5" x2="241.90" y2="416.4" stroke="#f0f0f0" stroke-width="0.7"/>
<line x1="62.0" y1="407.48" x2="250.4" y2="407.48" stroke="#f0f0f0" stroke-width="0.7"/>
<line x1="62.0" y1="413.42" x2="250.4" y2="413.42" stroke="#f0f0f0" stroke-width="0.7"/>
<text x="70.30" y="410.60" font-size="6.9" fill="#1ea9e6" font-weight="normal" font-style="normal" text-anchor="middle" textLength="13.80" lengthAdjust="spacingAndGlyphs" stroke="#1ea9e6" stroke-width="0.1">755</text>
<text x="70.30" y="416.40" font-size="6.9" fill="#ff2a2a" font-weight="normal" font-style="normal" text-anchor="middle" textLength="13.80" lengthAdjust="spacingAndGlyphs" stroke="#ff2a2a" stroke-width="0.1">304</text>
<text x="113.20" y="410.60" font-size="6.9" fill="#1ea9e6" font-weight="normal" font-style="normal" text-anchor="middle" textLength="13.80" lengthAdjust="spacingAndGlyphs" stroke="#1ea9e6" stroke-width="0.1">313</text>
<text x="113.20" y="416.40" font-size="6.9" fill="#ff2a2a" font-weight="normal" font-style="normal" text-anchor="middle" textLength="13.80" lengthAdjust="spacingAndGlyphs" stroke="#ff2a2a" stroke-width="0.1">143</text>
<text x="156.10" y="410.60" font-size="6.9" fill="#1ea9e6" font-weight="normal" font-style="normal" text-anchor="middle" textLength="13.80" lengthAdjust="spacingAndGlyphs" stroke="#1ea9e6" stroke-width="0.1">116</text>
<text x="156.10" y="416.40" font-size="6.9" fill="#ff2a2a" font-weight="normal" font-style="normal" text-anchor="middle" textLength="9.20" lengthAdjust="spacingAndGlyphs" stroke="#ff2a2a" stroke-width="0.1">59</text>
<text x="199.00" y="410.60" font-size="6.9" fill="#1ea9e6" font-weight="normal" font-style="normal" text-anchor="middle" textLength="9.20" lengthAdjust="spacingAndGlyphs" stroke="#1ea9e6" stroke-width="0.1">28</text>
<text x="199.00" y="416.40" font-size="6.9" fill="#ff2a2a" font-weight="normal" font-style="normal" text-anchor="middle" textLength="9.20" lengthAdjust="spacingAndGlyphs" stroke="#ff2a2a" stroke-width="0.1">13</text>
<text x="241.90" y="410.60" font-size="6.9" fill="#1ea9e6" font-weight="normal" font-style="normal" text-anchor="middle" textLength="4.60" lengthAdjust="spacingAndGlyphs" stroke="#1ea9e6" stroke-width="0.1">3</text>
<text x="241.90" y="416.40" font-size="6.9" fill="#ff2a2a" font-weight="normal" font-style="normal" text-anchor="middle" textLength="4.60" lengthAdjust="spacingAndGlyphs" stroke="#ff2a2a" stroke-width="0.1">1</text>
<rect x="62.0" y="404.5" width="188.4" height="11.899999999999977" fill="none" stroke="#858585" stroke-width="1"/>
<text x="57.70" y="409.60" font-size="5.6" fill="#35b3ea" font-weight="bold" font-style="normal" text-anchor="end" textLength="20.90" lengthAdjust="spacingAndGlyphs">Clinical</text>
<text x="57.70" y="415.20" font-size="5.6" fill="#ff3a3a" font-weight="bold" font-style="normal" text-anchor="end" textLength="25.30" lengthAdjust="spacingAndGlyphs">Intensive</text>
<text x="311.80" y="233.40" font-size="10.0" fill="#111" font-weight="bold" font-style="normal" text-anchor="start" textLength="7.00" lengthAdjust="spacingAndGlyphs" stroke="#111" stroke-width="0.4">D</text>
<text x="369.30" y="222.50" font-size="8" fill="#262626" font-weight="normal" font-style="normal" text-anchor="start" textLength="62.80" lengthAdjust="spacingAndGlyphs" stroke="#262626" stroke-width="0.15">Follow-up strategy</text>
<rect x="437.00" y="214.50" width="10.80" height="9.00" fill="#a9dcf3"/>
<line x1="437.00" y1="219.00" x2="447.80" y2="219.00" stroke="#0ea5e4" stroke-width="1.4"/>
<line x1="442.40" y1="216.60" x2="442.40" y2="221.40" stroke="#0ea5e4" stroke-width="1.2"/>
<text x="452.80" y="221.50" font-size="6" fill="#333" font-weight="normal" font-style="normal" text-anchor="start" textLength="21.50" lengthAdjust="spacingAndGlyphs" stroke="#333" stroke-width="0.15">Clinical</text>
<rect x="478.90" y="214.50" width="11.40" height="9.00" fill="#ffb2b2"/>
<line x1="478.90" y1="219.00" x2="490.30" y2="219.00" stroke="#fe0a0a" stroke-width="1.4"/>
<line x1="484.60" y1="216.60" x2="484.60" y2="221.40" stroke="#fe0a0a" stroke-width="1.2"/>
<text x="494.50" y="221.50" font-size="6" fill="#333" font-weight="normal" font-style="normal" text-anchor="start" textLength="25.60" lengthAdjust="spacingAndGlyphs" stroke="#333" stroke-width="0.15">Intensive</text>
<rect x="349.2" y="234.7" width="191.90000000000003" height="134.5" fill="#fff"/>
<line x1="357.60" y1="234.7" x2="357.60" y2="369.2" stroke="#f0f0f0" stroke-width="0.7"/>
<line x1="379.48" y1="234.7" x2="379.48" y2="369.2" stroke="#f0f0f0" stroke-width="0.7"/>
<line x1="401.35" y1="234.7" x2="401.35" y2="369.2" stroke="#f0f0f0" stroke-width="0.7"/>
<line x1="423.23" y1="234.7" x2="423.23" y2="369.2" stroke="#f0f0f0" stroke-width="0.7"/>
<line x1="445.10" y1="234.7" x2="445.10" y2="369.2" stroke="#f0f0f0" stroke-width="0.7"/>
<line x1="466.98" y1="234.7" x2="466.98" y2="369.2" stroke="#f0f0f0" stroke-width="0.7"/>
<line x1="488.85" y1="234.7" x2="488.85" y2="369.2" stroke="#f0f0f0" stroke-width="0.7"/>
<line x1="510.73" y1="234.7" x2="510.73" y2="369.2" stroke="#f0f0f0" stroke-width="0.7"/>
<line x1="532.60" y1="234.7" x2="532.60" y2="369.2" stroke="#f0f0f0" stroke-width="0.7"/>
<line x1="349.2" y1="363.10" x2="541.1" y2="363.10" stroke="#f0f0f0" stroke-width="0.7"/>
<line x1="349.2" y1="347.81" x2="541.1" y2="347.81" stroke="#f0f0f0" stroke-width="0.7"/>
<line x1="349.2" y1="332.53" x2="541.1" y2="332.53" stroke="#f0f0f0" stroke-width="0.7"/>
<line x1="349.2" y1="317.24" x2="541.1" y2="317.24" stroke="#f0f0f0" stroke-width="0.7"/>
<line x1="349.2" y1="301.95" x2="541.1" y2="301.95" stroke="#f0f0f0" stroke-width="0.7"/>
<line x1="349.2" y1="286.66" x2="541.1" y2="286.66" stroke="#f0f0f0" stroke-width="0.7"/>
<line x1="349.2" y1="271.38" x2="541.1" y2="271.38" stroke="#f0f0f0" stroke-width="0.7"/>
<line x1="349.2" y1="256.09" x2="541.1" y2="256.09" stroke="#f0f0f0" stroke-width="0.7"/>
<line x1="349.2" y1="240.80" x2="541.1" y2="240.80" stroke="#f0f0f0" stroke-width="0.7"/>
<path d="M357.60 240.80 L359.06 242.02 L360.66 245.81 L365.33 256.45 L371.16 264.65 L373.50 272.35 L379.48 282.99 L386.04 294.61 L394.06 304.40 L401.35 311.98 L407.77 318.34 L415.20 325.31 L426.58 331.67 L439.41 336.68 L455.89 338.88 L475.00 340.84 L480.68 345.37 L487.68 347.20 L517.00 347.20 L518.75 347.20" fill="none" stroke="#0ea5e4" stroke-width="2.7" stroke-linejoin="miter"/>
<path d="M357.60 240.80 L361.83 243.37 L367.66 251.68 L374.81 263.55 L380.64 270.03 L386.48 281.77 L394.79 293.63 L404.27 304.15 L413.60 311.24 L423.08 318.34 L425.41 320.30 L436.79 323.60 L449.48 326.65 L462.31 328.12 L475.00 330.69 L495.70 331.30 L495.70 334.36 L517.00 334.36 L517.00 349.04 L536.39 349.04" fill="none" stroke="#fe0a0a" stroke-width="2.4" stroke-linejoin="miter"/>
<path d="M357.60 240.80 L359.06 241.41 L360.66 243.31 L365.33 251.56 L371.16 259.76 L373.50 267.46 L379.48 278.10 L386.04 289.72 L394.06 299.50 L401.35 307.09 L407.77 313.45 L415.20 320.42 L426.58 326.78 L439.41 331.79 L455.89 333.99 L480.68 340.11 L517.00 340.11 L518.02 340.11 L518.02 349.77 L517.00 349.77 L480.68 349.77 L455.89 342.55 L439.41 340.35 L426.58 335.34 L415.20 328.98 L407.77 322.01 L401.35 315.65 L394.06 308.06 L386.04 298.28 L379.48 286.66 L373.50 276.02 L371.16 268.32 L365.33 260.12 L360.66 248.32 L359.06 242.63 L357.60 240.80Z" fill="#00a0e1" fill-opacity="0.31"/>
<path d="M357.60 240.80 L361.83 242.08 L367.66 246.24 L374.81 256.21 L380.64 262.69 L386.48 274.43 L394.79 286.30 L404.27 296.20 L413.60 303.30 L423.08 310.39 L425.41 312.35 L436.79 315.65 L449.48 318.71 L462.31 320.17 L475.00 322.74 L495.70 322.37 L495.85 324.21 L516.85 324.21 L517.00 303.54 L535.81 303.54 L535.81 358.94 L517.00 358.94 L516.85 340.96 L495.85 340.96 L495.70 336.56 L475.00 338.03 L462.31 335.46 L449.48 333.99 L436.79 330.94 L425.41 327.63 L423.08 325.68 L413.60 317.97 L404.27 310.88 L394.79 300.36 L386.48 288.50 L380.64 276.76 L374.81 270.27 L367.66 257.13 L361.83 244.65 L357.60 240.80Z" fill="#ff0000" fill-opacity="0.3"/>
<path d="M359.09 247.48H363.69M361.39 245.18V249.78" stroke="#0ea5e4" stroke-width="1.4"/>
<path d="M362.17 254.50H366.77M364.47 252.20V256.80" stroke="#0ea5e4" stroke-width="1.4"/>
<path d="M363.93 257.72H368.53M366.23 255.42V260.02" stroke="#0ea5e4" stroke-width="1.4"/>
<path d="M367.94 263.35H372.54M370.24 261.05V265.65" stroke="#0ea5e4" stroke-width="1.4"/>
<path d="M370.29 269.36H374.89M372.59 267.06V271.66" stroke="#0ea5e4" stroke-width="1.4"/>
<path d="M373.37 276.22H377.97M375.67 273.92V278.52" stroke="#0ea5e4" stroke-width="1.4"/>
<path d="M376.65 282.05H381.25M378.95 279.75V284.35" stroke="#0ea5e4" stroke-width="1.4"/>
<path d="M381.38 290.44H385.98M383.68 288.14V292.74" stroke="#0ea5e4" stroke-width="1.4"/>
<path d="M384.44 295.47H389.04M386.74 293.17V297.77" stroke="#0ea5e4" stroke-width="1.4"/>
<path d="M387.72 299.47H392.32M390.02 297.17V301.77" stroke="#0ea5e4" stroke-width="1.4"/>
<path d="M389.99 302.24H394.59M392.29 299.94V304.54" stroke="#0ea5e4" stroke-width="1.4"/>
<path d="M393.73 306.45H398.33M396.03 304.15V308.75" stroke="#0ea5e4" stroke-width="1.4"/>
<path d="M397.26 310.12H401.86M399.56 307.82V312.42" stroke="#0ea5e4" stroke-width="1.4"/>
<path d="M399.69 312.61H404.29M401.99 310.31V314.91" stroke="#0ea5e4" stroke-width="1.4"/>
<path d="M403.27 316.16H407.87M405.57 313.86V318.46" stroke="#0ea5e4" stroke-width="1.4"/>
<path d="M405.81 318.66H410.41M408.11 316.36V320.96" stroke="#0ea5e4" stroke-width="1.4"/>
<path d="M408.74 321.41H413.34M411.04 319.11V323.71" stroke="#0ea5e4" stroke-width="1.4"/>
<path d="M412.31 324.75H416.91M414.61 322.45V327.05" stroke="#0ea5e4" stroke-width="1.4"/>
<path d="M416.72 327.44H421.32M419.02 325.14V329.74" stroke="#0ea5e4" stroke-width="1.4"/>
<path d="M419.30 328.88H423.90M421.60 326.58V331.18" stroke="#0ea5e4" stroke-width="1.4"/>
<path d="M423.20 331.07H427.80M425.50 328.77V333.37" stroke="#0ea5e4" stroke-width="1.4"/>
<path d="M425.51 332.15H430.11M427.81 329.85V334.45" stroke="#0ea5e4" stroke-width="1.4"/>
<path d="M428.37 333.27H432.97M430.67 330.97V335.57" stroke="#0ea5e4" stroke-width="1.4"/>
<path d="M432.56 334.90H437.16M434.86 332.60V337.20" stroke="#0ea5e4" stroke-width="1.4"/>
<path d="M435.85 336.19H440.45M438.15 333.89V338.49" stroke="#0ea5e4" stroke-width="1.4"/>
<path d="M437.49 336.73H442.09M439.79 334.43V339.03" stroke="#0ea5e4" stroke-width="1.4"/>
<path d="M441.96 337.33H446.56M444.26 335.03V339.63" stroke="#0ea5e4" stroke-width="1.4"/>
<path d="M444.06 337.61H448.66M446.36 335.31V339.91" stroke="#0ea5e4" stroke-width="1.4"/>
<path d="M447.31 338.05H451.91M449.61 335.75V340.35" stroke="#0ea5e4" stroke-width="1.4"/>
<path d="M452.00 338.67H456.60M454.30 336.37V340.97" stroke="#0ea5e4" stroke-width="1.4"/>
<path d="M453.58 338.88H458.18M455.88 336.58V341.18" stroke="#0ea5e4" stroke-width="1.4"/>
<path d="M457.17 339.25H461.77M459.47 336.95V341.55" stroke="#0ea5e4" stroke-width="1.4"/>
<path d="M461.82 339.73H466.42M464.12 337.43V342.03" stroke="#0ea5e4" stroke-width="1.4"/>
<path d="M463.94 339.94H468.54M466.24 337.64V342.24" stroke="#0ea5e4" stroke-width="1.4"/>
<path d="M466.56 340.21H471.16M468.86 337.91V342.51" stroke="#0ea5e4" stroke-width="1.4"/>
<path d="M469.87 340.55H474.47M472.17 338.25V342.85" stroke="#0ea5e4" stroke-width="1.4"/>
<path d="M473.22 341.26H477.82M475.52 338.96V343.56" stroke="#0ea5e4" stroke-width="1.4"/>
<path d="M477.39 344.58H481.99M479.69 342.28V346.88" stroke="#0ea5e4" stroke-width="1.4"/>
<path d="M479.37 345.62H483.97M481.67 343.32V347.92" stroke="#0ea5e4" stroke-width="1.4"/>
<path d="M484.13 346.87H488.73M486.43 344.57V349.17" stroke="#0ea5e4" stroke-width="1.4"/>
<path d="M486.32 347.20H490.92M488.62 344.90V349.50" stroke="#0ea5e4" stroke-width="1.4"/>
<path d="M490.66 347.20H495.26M492.96 344.90V349.50" stroke="#0ea5e4" stroke-width="1.4"/>
<path d="M493.75 347.20H498.35M496.05 344.90V349.50" stroke="#0ea5e4" stroke-width="1.4"/>
<path d="M495.78 347.20H500.38M498.08 344.90V349.50" stroke="#0ea5e4" stroke-width="1.4"/>
<path d="M498.91 347.20H503.51M501.21 344.90V349.50" stroke="#0ea5e4" stroke-width="1.4"/>
<path d="M502.55 347.20H507.15M504.85 344.90V349.50" stroke="#0ea5e4" stroke-width="1.4"/>
<path d="M505.03 347.20H509.63M507.33 344.90V349.50" stroke="#0ea5e4" stroke-width="1.4"/>
<path d="M509.30 347.20H513.90M511.60 344.90V349.50" stroke="#0ea5e4" stroke-width="1.4"/>
<path d="M511.33 347.20H515.93M513.63 344.90V349.50" stroke="#0ea5e4" stroke-width="1.4"/>
<path d="M358.65 242.83H363.25M360.95 240.53V245.13" stroke="#fe0a0a" stroke-width="1.4"/>
<path d="M364.19 250.01H368.79M366.49 247.71V252.31" stroke="#fe0a0a" stroke-width="1.4"/>
<path d="M366.25 253.15H370.85M368.55 250.85V255.45" stroke="#fe0a0a" stroke-width="1.4"/>
<path d="M370.38 260.01H374.98M372.68 257.71V262.31" stroke="#fe0a0a" stroke-width="1.4"/>
<path d="M373.57 264.73H378.17M375.87 262.43V267.03" stroke="#fe0a0a" stroke-width="1.4"/>
<path d="M376.78 268.30H381.38M379.08 266.00V270.60" stroke="#fe0a0a" stroke-width="1.4"/>
<path d="M379.76 272.88H384.36M382.06 270.58V275.18" stroke="#fe0a0a" stroke-width="1.4"/>
<path d="M385.04 283.01H389.64M387.34 280.71V285.31" stroke="#fe0a0a" stroke-width="1.4"/>
<path d="M388.66 288.17H393.26M390.96 285.87V290.47" stroke="#fe0a0a" stroke-width="1.4"/>
<path d="M392.16 293.17H396.76M394.46 290.87V295.47" stroke="#fe0a0a" stroke-width="1.4"/>
<path d="M393.86 295.16H398.46M396.16 292.86V297.46" stroke="#fe0a0a" stroke-width="1.4"/>
<path d="M397.58 299.28H402.18M399.88 296.98V301.58" stroke="#fe0a0a" stroke-width="1.4"/>
<path d="M401.92 304.10H406.52M404.22 301.80V306.40" stroke="#fe0a0a" stroke-width="1.4"/>
<path d="M406.18 307.36H410.78M408.48 305.06V309.66" stroke="#fe0a0a" stroke-width="1.4"/>
<path d="M408.77 309.32H413.37M411.07 307.02V311.62" stroke="#fe0a0a" stroke-width="1.4"/>
<path d="M412.57 312.20H417.17M414.87 309.90V314.50" stroke="#fe0a0a" stroke-width="1.4"/>
<path d="M416.01 314.77H420.61M418.31 312.47V317.07" stroke="#fe0a0a" stroke-width="1.4"/>
<path d="M418.67 316.76H423.27M420.97 314.46V319.06" stroke="#fe0a0a" stroke-width="1.4"/>
<path d="M422.76 320.00H427.36M425.06 317.70V322.30" stroke="#fe0a0a" stroke-width="1.4"/>
<path d="M425.77 321.07H430.37M428.07 318.77V323.37" stroke="#fe0a0a" stroke-width="1.4"/>
<path d="M429.14 322.05H433.74M431.44 319.75V324.35" stroke="#fe0a0a" stroke-width="1.4"/>
<path d="M432.30 322.96H436.90M434.60 320.66V325.26" stroke="#fe0a0a" stroke-width="1.4"/>
<path d="M436.21 324.01H440.81M438.51 321.71V326.31" stroke="#fe0a0a" stroke-width="1.4"/>
<path d="M441.19 325.21H445.79M443.49 322.91V327.51" stroke="#fe0a0a" stroke-width="1.4"/>
<path d="M443.57 325.78H448.17M445.87 323.48V328.08" stroke="#fe0a0a" stroke-width="1.4"/>
<path d="M447.49 326.69H452.09M449.79 324.39V328.99" stroke="#fe0a0a" stroke-width="1.4"/>
<path d="M450.98 327.09H455.58M453.28 324.79V329.39" stroke="#fe0a0a" stroke-width="1.4"/>
<path d="M455.10 327.56H459.70M457.40 325.26V329.86" stroke="#fe0a0a" stroke-width="1.4"/>
<path d="M457.45 327.83H462.05M459.75 325.53V330.13" stroke="#fe0a0a" stroke-width="1.4"/>
<path d="M460.77 328.28H465.37M463.07 325.98V330.58" stroke="#fe0a0a" stroke-width="1.4"/>
<path d="M464.31 328.99H468.91M466.61 326.69V331.29" stroke="#fe0a0a" stroke-width="1.4"/>
<path d="M467.79 329.70H472.39M470.09 327.40V332.00" stroke="#fe0a0a" stroke-width="1.4"/>
<path d="M472.40 330.63H477.00M474.70 328.33V332.93" stroke="#fe0a0a" stroke-width="1.4"/>
<path d="M476.00 330.79H480.60M478.30 328.49V333.09" stroke="#fe0a0a" stroke-width="1.4"/>
<path d="M478.26 330.85H482.86M480.56 328.55V333.15" stroke="#fe0a0a" stroke-width="1.4"/>
<path d="M481.83 330.96H486.43M484.13 328.66V333.26" stroke="#fe0a0a" stroke-width="1.4"/>
<path d="M485.77 331.08H490.37M488.07 328.78V333.38" stroke="#fe0a0a" stroke-width="1.4"/>
<path d="M489.34 331.18H493.94M491.64 328.88V333.48" stroke="#fe0a0a" stroke-width="1.4"/>
<path d="M495.30 334.36H499.90M497.60 332.06V336.66" stroke="#fe0a0a" stroke-width="1.4"/>
<path d="M499.68 334.36H504.28M501.98 332.06V336.66" stroke="#fe0a0a" stroke-width="1.4"/>
<path d="M504.05 334.36H508.65M506.35 332.06V336.66" stroke="#fe0a0a" stroke-width="1.4"/>
<path d="M509.88 334.36H514.48M512.18 332.06V336.66" stroke="#fe0a0a" stroke-width="1.4"/>
<path d="M533.22 349.04H537.82M535.52 346.74V351.34" stroke="#fe0a0a" stroke-width="1.4"/>
<text x="362.40" y="365.60" font-size="7.8" fill="#111" font-weight="bold" stroke="#111" stroke-width="0.2" textLength="36.20" lengthAdjust="spacingAndGlyphs"><tspan font-style="italic">p</tspan> = 0.002</text>
<rect x="349.2" y="234.7" width="191.90000000000003" height="134.5" fill="none" stroke="#858585" stroke-width="1"/>
<line x1="357.60" y1="369.2" x2="357.60" y2="370.7" stroke="#333" stroke-width="0.8"/>
<text x="357.60" y="377.00" font-size="6.4" fill="#555555" font-weight="normal" font-style="normal" text-anchor="middle" stroke="#555555" stroke-width="0.12">0</text>
<line x1="401.35" y1="369.2" x2="401.35" y2="370.7" stroke="#333" stroke-width="0.8"/>
<text x="401.35" y="377.00" font-size="6.4" fill="#555555" font-weight="normal" font-style="normal" text-anchor="middle" stroke="#555555" stroke-width="0.12">3</text>
<line x1="445.10" y1="369.2" x2="445.10" y2="370.7" stroke="#333" stroke-width="0.8"/>
<text x="445.10" y="377.00" font-size="6.4" fill="#555555" font-weight="normal" font-style="normal" text-anchor="middle" stroke="#555555" stroke-width="0.12">6</text>
<line x1="488.85" y1="369.2" x2="488.85" y2="370.7" stroke="#333" stroke-width="0.8"/>
<text x="488.85" y="377.00" font-size="6.4" fill="#555555" font-weight="normal" font-style="normal" text-anchor="middle" stroke="#555555" stroke-width="0.12">9</text>
<line x1="532.60" y1="369.2" x2="532.60" y2="370.7" stroke="#333" stroke-width="0.8"/>
<text x="532.60" y="377.00" font-size="6.4" fill="#555555" font-weight="normal" font-style="normal" text-anchor="middle" stroke="#555555" stroke-width="0.12">12</text>
<line x1="347.7" y1="363.10" x2="349.2" y2="363.10" stroke="#333" stroke-width="0.8"/>
<text x="344.80" y="366.05" font-size="6.4" fill="#555555" font-weight="normal" font-style="normal" text-anchor="end" stroke="#555555" stroke-width="0.12">0</text>
<line x1="347.7" y1="332.53" x2="349.2" y2="332.53" stroke="#333" stroke-width="0.8"/>
<text x="344.80" y="335.48" font-size="6.4" fill="#555555" font-weight="normal" font-style="normal" text-anchor="end" stroke="#555555" stroke-width="0.12">25</text>
<line x1="347.7" y1="301.95" x2="349.2" y2="301.95" stroke="#333" stroke-width="0.8"/>
<text x="344.80" y="304.90" font-size="6.4" fill="#555555" font-weight="normal" font-style="normal" text-anchor="end" stroke="#555555" stroke-width="0.12">50</text>
<line x1="347.7" y1="271.38" x2="349.2" y2="271.38" stroke="#333" stroke-width="0.8"/>
<text x="344.80" y="274.32" font-size="6.4" fill="#555555" font-weight="normal" font-style="normal" text-anchor="end" stroke="#555555" stroke-width="0.12">75</text>
<line x1="347.7" y1="240.80" x2="349.2" y2="240.80" stroke="#333" stroke-width="0.8"/>
<text x="344.80" y="243.75" font-size="6.4" fill="#555555" font-weight="normal" font-style="normal" text-anchor="end" stroke="#555555" stroke-width="0.12">100</text>
<text transform="translate(315.60,301.55) rotate(-90)" x="0" y="0" font-size="7.8" fill="#4a4a4a" text-anchor="middle" textLength="69.30" lengthAdjust="spacingAndGlyphs">Survival probability (%)</text>
<text x="437.30" y="385.50" font-size="7.4" fill="#262626" font-weight="normal" font-style="normal" text-anchor="start" textLength="15.30" lengthAdjust="spacingAndGlyphs" stroke="#262626" stroke-width="0.25">Year</text>
<text x="349.10" y="399.60" font-size="8.2" fill="#1a1a1a" font-weight="normal" font-style="normal" text-anchor="start" textLength="62.00" lengthAdjust="spacingAndGlyphs" stroke="#1a1a1a" stroke-width="0.15">Number at risk</text>
<rect x="349.2" y="405.0" width="191.90000000000003" height="12.0" fill="#fff"/>
<line x1="357.60" y1="405.0" x2="357.60" y2="417.0" stroke="#f0f0f0" stroke-width="0.7"/>
<line x1="379.48" y1="405.0" x2="379.48" y2="417.0" stroke="#f0f0f0" stroke-width="0.7"/>
<line x1="401.35" y1="405.0" x2="401.35" y2="417.0" stroke="#f0f0f0" stroke-width="0.7"/>
<line x1="423.23" y1="405.0" x2="423.23" y2="417.0" stroke="#f0f0f0" stroke-width="0.7"/>
<line x1="445.10" y1="405.0" x2="445.10" y2="417.0" stroke="#f0f0f0" stroke-width="0.7"/>
<line x1="466.98" y1="405.0" x2="466.98" y2="417.0" stroke="#f0f0f0" stroke-width="0.7"/>
<line x1="488.85" y1="405.0" x2="488.85" y2="417.0" stroke="#f0f0f0" stroke-width="0.7"/>
<line x1="510.73" y1="405.0" x2="510.73" y2="417.0" stroke="#f0f0f0" stroke-width="0.7"/>
<line x1="532.60" y1="405.0" x2="532.60" y2="417.0" stroke="#f0f0f0" stroke-width="0.7"/>
<line x1="349.2" y1="408.00" x2="541.1" y2="408.00" stroke="#f0f0f0" stroke-width="0.7"/>
<line x1="349.2" y1="414.00" x2="541.1" y2="414.00" stroke="#f0f0f0" stroke-width="0.7"/>
<text x="357.60" y="410.80" font-size="6.9" fill="#1ea9e6" font-weight="normal" font-style="normal" text-anchor="middle" textLength="13.80" lengthAdjust="spacingAndGlyphs" stroke="#1ea9e6" stroke-width="0.1">430</text>
<text x="357.60" y="416.60" font-size="6.9" fill="#ff2a2a" font-weight="normal" font-style="normal" text-anchor="middle" textLength="13.80" lengthAdjust="spacingAndGlyphs" stroke="#ff2a2a" stroke-width="0.1">264</text>
<text x="401.35" y="410.80" font-size="6.9" fill="#1ea9e6" font-weight="normal" font-style="normal" text-anchor="middle" textLength="13.80" lengthAdjust="spacingAndGlyphs" stroke="#1ea9e6" stroke-width="0.1">173</text>
<text x="401.35" y="416.60" font-size="6.9" fill="#ff2a2a" font-weight="normal" font-style="normal" text-anchor="middle" textLength="13.80" lengthAdjust="spacingAndGlyphs" stroke="#ff2a2a" stroke-width="0.1">124</text>
<text x="445.10" y="410.80" font-size="6.9" fill="#1ea9e6" font-weight="normal" font-style="normal" text-anchor="middle" textLength="9.20" lengthAdjust="spacingAndGlyphs" stroke="#1ea9e6" stroke-width="0.1">60</text>
<text x="445.10" y="416.60" font-size="6.9" fill="#ff2a2a" font-weight="normal" font-style="normal" text-anchor="middle" textLength="9.20" lengthAdjust="spacingAndGlyphs" stroke="#ff2a2a" stroke-width="0.1">53</text>
<text x="488.85" y="410.80" font-size="6.9" fill="#1ea9e6" font-weight="normal" font-style="normal" text-anchor="middle" textLength="4.60" lengthAdjust="spacingAndGlyphs" stroke="#1ea9e6" stroke-width="0.1">9</text>
<text x="488.85" y="416.60" font-size="6.9" fill="#ff2a2a" font-weight="normal" font-style="normal" text-anchor="middle" textLength="9.20" lengthAdjust="spacingAndGlyphs" stroke="#ff2a2a" stroke-width="0.1">13</text>
<text x="532.60" y="410.80" font-size="6.9" fill="#1ea9e6" font-weight="normal" font-style="normal" text-anchor="middle" textLength="4.60" lengthAdjust="spacingAndGlyphs" stroke="#1ea9e6" stroke-width="0.1">0</text>
<text x="532.60" y="416.60" font-size="6.9" fill="#ff2a2a" font-weight="normal" font-style="normal" text-anchor="middle" textLength="4.60" lengthAdjust="spacingAndGlyphs" stroke="#ff2a2a" stroke-width="0.1">1</text>
<rect x="349.2" y="405.0" width="191.90000000000003" height="12.0" fill="none" stroke="#858585" stroke-width="1"/>
<text x="345.00" y="409.80" font-size="5.6" fill="#35b3ea" font-weight="bold" font-style="normal" text-anchor="end" textLength="21.80" lengthAdjust="spacingAndGlyphs">Clinical</text>
<text x="345.00" y="415.40" font-size="5.6" fill="#ff3a3a" font-weight="bold" font-style="normal" text-anchor="end" textLength="25.70" lengthAdjust="spacingAndGlyphs">Intensive</text>
</svg></body></html>
